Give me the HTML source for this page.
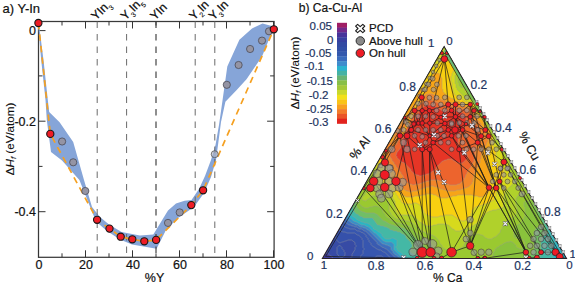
<!DOCTYPE html><html><head><meta charset="utf-8"><style>html,body{margin:0;padding:0;background:#fff;width:575px;height:284px;overflow:hidden}svg{display:block}.t{font-family:"Liberation Sans", sans-serif;font-size:12.5px;fill:#111;stroke:#111;stroke-width:0.2}.p{font-family:"Liberation Sans", sans-serif;font-size:12px;fill:#111;stroke:#111;stroke-width:0.25}.b{font-family:"Liberation Sans", sans-serif;font-size:11.5px;fill:#1c3360;stroke:#1c3360;stroke-width:0.2}.b2{font-family:"Liberation Sans", sans-serif;font-size:12px;fill:#1c3360;stroke:#1c3360;stroke-width:0.2}</style></head><body>
<svg width="575" height="284" viewBox="0 0 575 284">
<rect x="38.5" y="21.5" width="235.6" height="235.8" fill="none" stroke="#3a3a3a" stroke-width="1.25"/>
<line x1="38.5" y1="257.3" x2="38.5" y2="250.3" stroke="#333" stroke-width="1"/>
<line x1="38.5" y1="21.5" x2="38.5" y2="28.5" stroke="#333" stroke-width="1"/>
<line x1="62.0" y1="257.3" x2="62.0" y2="253.3" stroke="#333" stroke-width="1"/>
<line x1="62.0" y1="21.5" x2="62.0" y2="25.5" stroke="#333" stroke-width="1"/>
<line x1="85.5" y1="257.3" x2="85.5" y2="250.3" stroke="#333" stroke-width="1"/>
<line x1="85.5" y1="21.5" x2="85.5" y2="28.5" stroke="#333" stroke-width="1"/>
<line x1="109.0" y1="257.3" x2="109.0" y2="253.3" stroke="#333" stroke-width="1"/>
<line x1="109.0" y1="21.5" x2="109.0" y2="25.5" stroke="#333" stroke-width="1"/>
<line x1="132.5" y1="257.3" x2="132.5" y2="250.3" stroke="#333" stroke-width="1"/>
<line x1="132.5" y1="21.5" x2="132.5" y2="28.5" stroke="#333" stroke-width="1"/>
<line x1="156.0" y1="257.3" x2="156.0" y2="253.3" stroke="#333" stroke-width="1"/>
<line x1="156.0" y1="21.5" x2="156.0" y2="25.5" stroke="#333" stroke-width="1"/>
<line x1="179.5" y1="257.3" x2="179.5" y2="250.3" stroke="#333" stroke-width="1"/>
<line x1="179.5" y1="21.5" x2="179.5" y2="28.5" stroke="#333" stroke-width="1"/>
<line x1="203.0" y1="257.3" x2="203.0" y2="253.3" stroke="#333" stroke-width="1"/>
<line x1="203.0" y1="21.5" x2="203.0" y2="25.5" stroke="#333" stroke-width="1"/>
<line x1="226.5" y1="257.3" x2="226.5" y2="250.3" stroke="#333" stroke-width="1"/>
<line x1="226.5" y1="21.5" x2="226.5" y2="28.5" stroke="#333" stroke-width="1"/>
<line x1="250.0" y1="257.3" x2="250.0" y2="253.3" stroke="#333" stroke-width="1"/>
<line x1="250.0" y1="21.5" x2="250.0" y2="25.5" stroke="#333" stroke-width="1"/>
<line x1="273.5" y1="257.3" x2="273.5" y2="250.3" stroke="#333" stroke-width="1"/>
<line x1="273.5" y1="21.5" x2="273.5" y2="28.5" stroke="#333" stroke-width="1"/>
<line x1="38.5" y1="30.6" x2="45.5" y2="30.6" stroke="#333" stroke-width="1"/>
<line x1="274.1" y1="30.6" x2="267.1" y2="30.6" stroke="#333" stroke-width="1"/>
<line x1="38.5" y1="75.9" x2="42.5" y2="75.9" stroke="#333" stroke-width="1"/>
<line x1="274.1" y1="75.9" x2="270.1" y2="75.9" stroke="#333" stroke-width="1"/>
<line x1="38.5" y1="121.2" x2="45.5" y2="121.2" stroke="#333" stroke-width="1"/>
<line x1="274.1" y1="121.2" x2="267.1" y2="121.2" stroke="#333" stroke-width="1"/>
<line x1="38.5" y1="166.4" x2="42.5" y2="166.4" stroke="#333" stroke-width="1"/>
<line x1="274.1" y1="166.4" x2="270.1" y2="166.4" stroke="#333" stroke-width="1"/>
<line x1="38.5" y1="211.7" x2="45.5" y2="211.7" stroke="#333" stroke-width="1"/>
<line x1="274.1" y1="211.7" x2="267.1" y2="211.7" stroke="#333" stroke-width="1"/>
<polygon points="38.9,24.0 43.5,60.0 47.8,100.0 49.2,112.0 59.6,122.3 73.2,142.0 84.0,180.0 92.0,207.0 100.0,217.0 109.0,224.5 121.6,232.0 140.0,235.5 153.3,234.5 168.0,210.5 176.0,203.5 184.6,200.7 191.5,200.0 199.0,189.0 205.0,176.0 211.0,160.0 215.5,145.0 219.0,125.0 222.0,104.0 227.3,66.5 239.4,39.7 252.0,28.5 262.5,23.4 272.7,26.2 272.0,32.0 262.0,56.6 246.5,79.2 236.7,90.0 225.4,101.8 221.0,122.0 218.0,145.0 216.0,160.0 211.0,177.0 204.0,193.0 194.0,207.0 178.0,218.0 166.0,230.0 156.6,248.8 145.0,246.7 132.0,244.5 120.0,239.5 107.0,231.0 96.0,221.5 79.4,180.0 62.0,160.5 51.0,151.9 46.8,120.0 45.5,100.0 41.2,60.0 38.1,24.0" fill="#86a5d8"/>
<line x1="97.2" y1="21.5" x2="97.2" y2="257.0" stroke="#6a6a6a" stroke-width="1.0" stroke-dasharray="6.5 6"/>
<line x1="126.6" y1="21.5" x2="126.6" y2="257.0" stroke="#6a6a6a" stroke-width="1.0" stroke-dasharray="6.5 6"/>
<line x1="156.0" y1="21.5" x2="156.0" y2="257.0" stroke="#444" stroke-width="1.2" stroke-dasharray="6.5 6"/>
<line x1="195.2" y1="21.5" x2="195.2" y2="257.0" stroke="#6a6a6a" stroke-width="1.0" stroke-dasharray="6.5 6"/>
<line x1="214.8" y1="21.5" x2="214.8" y2="257.0" stroke="#6a6a6a" stroke-width="1.0" stroke-dasharray="6.5 6"/>
<polyline points="38.4,23.0 50.3,133.9 97.1,219.8 109.5,228.6 120.7,236.7 132.3,239.3 144.3,241.3 156.1,239.9 191.3,205.1 203.1,190.3 273.8,29.3" fill="none" stroke="#f5a020" stroke-width="1.7" stroke-dasharray="6.5 5"/>
<circle cx="62.1" cy="141.5" r="3.6" fill="#9494a4" stroke="#4a4a55" stroke-width="0.8"/>
<circle cx="73.2" cy="162.3" r="3.6" fill="#9494a4" stroke="#4a4a55" stroke-width="0.8"/>
<circle cx="85.3" cy="191.0" r="3.6" fill="#9494a4" stroke="#4a4a55" stroke-width="0.8"/>
<circle cx="168.0" cy="222.9" r="3.6" fill="#9494a4" stroke="#4a4a55" stroke-width="0.8"/>
<circle cx="179.7" cy="212.4" r="3.6" fill="#9494a4" stroke="#4a4a55" stroke-width="0.8"/>
<circle cx="226.8" cy="84.8" r="3.6" fill="#9494a4" stroke="#4a4a55" stroke-width="0.8"/>
<circle cx="238.6" cy="65.0" r="3.6" fill="#9494a4" stroke="#4a4a55" stroke-width="0.8"/>
<circle cx="250.1" cy="49.0" r="3.6" fill="#9494a4" stroke="#4a4a55" stroke-width="0.8"/>
<circle cx="262.0" cy="40.6" r="3.6" fill="#9494a4" stroke="#4a4a55" stroke-width="0.8"/>
<circle cx="269.0" cy="31.3" r="3.6" fill="#9494a4" stroke="#4a4a55" stroke-width="0.8"/>
<circle cx="214.7" cy="154.2" r="3.5" fill="#b4b4c0" fill-opacity="0.6" stroke="#555" stroke-width="0.8"/>
<circle cx="38.4" cy="23.0" r="3.6" fill="#ee1c25" stroke="#181818" stroke-width="1.1"/>
<circle cx="50.3" cy="133.9" r="3.6" fill="#ee1c25" stroke="#181818" stroke-width="1.1"/>
<circle cx="97.1" cy="219.8" r="3.6" fill="#ee1c25" stroke="#181818" stroke-width="1.1"/>
<circle cx="109.5" cy="228.6" r="3.6" fill="#ee1c25" stroke="#181818" stroke-width="1.1"/>
<circle cx="120.7" cy="236.7" r="3.6" fill="#ee1c25" stroke="#181818" stroke-width="1.1"/>
<circle cx="132.3" cy="239.3" r="3.6" fill="#ee1c25" stroke="#181818" stroke-width="1.1"/>
<circle cx="144.3" cy="241.3" r="3.6" fill="#ee1c25" stroke="#181818" stroke-width="1.1"/>
<circle cx="156.1" cy="239.9" r="3.6" fill="#ee1c25" stroke="#181818" stroke-width="1.1"/>
<circle cx="191.3" cy="205.1" r="3.6" fill="#ee1c25" stroke="#181818" stroke-width="1.1"/>
<circle cx="203.1" cy="190.3" r="3.6" fill="#ee1c25" stroke="#181818" stroke-width="1.1"/>
<circle cx="273.8" cy="29.3" r="3.6" fill="#ee1c25" stroke="#181818" stroke-width="1.1"/>
<text x="39.0" y="269.3" text-anchor="middle" class="t">0</text>
<text x="86.0" y="269.3" text-anchor="middle" class="t">20</text>
<text x="133.0" y="269.3" text-anchor="middle" class="t">40</text>
<text x="180.0" y="269.3" text-anchor="middle" class="t">60</text>
<text x="227.0" y="269.3" text-anchor="middle" class="t">80</text>
<text x="274.0" y="269.3" text-anchor="middle" class="t">100</text>
<text x="36" y="34.9" text-anchor="end" class="t">0</text>
<text x="36" y="125.5" text-anchor="end" class="t">-0.2</text>
<text x="36" y="216.0" text-anchor="end" class="t">-0.4</text>
<text x="154.5" y="282" text-anchor="middle" class="t">%Y</text>
<text x="2.5" y="13.3" class="t" style="font-size:13px">a) Y-In</text>
<text transform="translate(13.5,139) rotate(-90)" text-anchor="middle" class="t" style="font-size:11.6px;stroke-width:0.1">&#916;<tspan font-style="italic">H</tspan><tspan font-style="italic" font-size="8" dy="2">f</tspan><tspan dy="-2"> (eV/atom)</tspan></text>
<text transform="translate(96.0,20.8) rotate(-45)" class="p"><tspan dy="0.0">YIn</tspan><tspan font-size="7" stroke-width="0.15" dy="3.8">3</tspan></text>
<text transform="translate(125.5,20.8) rotate(-45)" class="p"><tspan dy="0.0">Y</tspan><tspan font-size="7" stroke-width="0.15" dy="3.8">3</tspan><tspan dy="-3.8">In</tspan><tspan font-size="7" stroke-width="0.15" dy="3.8">5</tspan></text>
<text transform="translate(155.0,20.8) rotate(-45)" class="p"><tspan dy="0.0">YIn</tspan></text>
<text transform="translate(194.0,20.8) rotate(-45)" class="p"><tspan dy="0.0">Y</tspan><tspan font-size="7" stroke-width="0.15" dy="3.8">2</tspan><tspan dy="-3.8">In</tspan></text>
<text transform="translate(213.5,20.8) rotate(-45)" class="p"><tspan dy="0.0">Y</tspan><tspan font-size="7" stroke-width="0.15" dy="3.8">3</tspan><tspan dy="-3.8">In</tspan></text>
<text x="298.8" y="12" class="t" style="font-size:12px">b) Ca-Cu-Al</text>
<rect x="337" y="22.80" width="10" height="5.10" fill="#a01e64"/>
<rect x="337" y="27.60" width="10" height="5.10" fill="#72298a"/>
<rect x="337" y="32.39" width="10" height="5.10" fill="#46339a"/>
<rect x="337" y="37.19" width="10" height="5.10" fill="#3840a0"/>
<rect x="337" y="41.98" width="10" height="5.10" fill="#3249a2"/>
<rect x="337" y="46.78" width="10" height="5.10" fill="#314fa6"/>
<rect x="337" y="51.57" width="10" height="5.10" fill="#3358ad"/>
<rect x="337" y="56.37" width="10" height="5.10" fill="#3a6cbd"/>
<rect x="337" y="61.16" width="10" height="5.10" fill="#3f8ccd"/>
<rect x="337" y="65.96" width="10" height="5.10" fill="#2cb3cf"/>
<rect x="337" y="70.75" width="10" height="5.10" fill="#45b3a5"/>
<rect x="337" y="75.55" width="10" height="5.10" fill="#69b474"/>
<rect x="337" y="80.34" width="10" height="5.10" fill="#88bf48"/>
<rect x="337" y="85.14" width="10" height="5.10" fill="#a5c83a"/>
<rect x="337" y="89.93" width="10" height="5.10" fill="#c8d82e"/>
<rect x="337" y="94.73" width="10" height="5.10" fill="#f2e01a"/>
<rect x="337" y="99.52" width="10" height="5.10" fill="#f9c418"/>
<rect x="337" y="104.32" width="10" height="5.10" fill="#f8a020"/>
<rect x="337" y="109.11" width="10" height="5.10" fill="#f27c2c"/>
<rect x="337" y="113.91" width="10" height="5.10" fill="#ea5528"/>
<rect x="337" y="118.70" width="10" height="5.10" fill="#e2231f"/>
<text x="332.0" y="30.0" text-anchor="end" class="b">0.05</text>
<text x="333.5" y="44.0" text-anchor="end" class="b">0</text>
<text x="331.5" y="57.0" text-anchor="end" class="b">-0.05</text>
<text x="324.0" y="70.0" text-anchor="end" class="b">-0.1</text>
<text x="333.0" y="85.0" text-anchor="end" class="b">-0.15</text>
<text x="328.5" y="99.0" text-anchor="end" class="b">-0.2</text>
<text x="332.5" y="112.5" text-anchor="end" class="b">-0.25</text>
<text x="328.5" y="126.0" text-anchor="end" class="b">-0.3</text>
<text transform="translate(299.3,73) rotate(-90)" text-anchor="middle" class="t" style="font-size:11.6px;stroke-width:0.1">&#916;<tspan font-style="italic">H</tspan><tspan font-style="italic" font-size="8" dy="2">f</tspan><tspan dy="-2"> (eV/atom)</tspan></text>
<g transform="translate(360.2,28.5)"><path d="M-4.6,-2.4 L-2.6,-4.2 L0,-1.8 L2.6,-4.2 L4.6,-2.4 L2.2,0 L4.6,2.4 L2.6,4.2 L0,1.8 L-2.6,4.2 L-4.6,2.4 L-2.2,0 Z" fill="#fff" stroke="#1a1a1a" stroke-width="1.1" stroke-linejoin="round"/></g>
<circle cx="360.3" cy="40.9" r="4.2" fill="#8a8a8a" stroke="#2a2a2a" stroke-width="1"/>
<circle cx="360.3" cy="53.1" r="4.2" fill="#ee1c25" stroke="#2a2a2a" stroke-width="1"/>
<text x="369" y="32.3" class="t" style="font-size:11.5px">PCD</text>
<text x="369" y="45" class="t" style="font-size:11.5px">Above hull</text>
<text x="369" y="57.3" class="t" style="font-size:11.5px">On hull</text>
<defs><clipPath id="tri"><polygon points="322.4,258.5 566.5,258.5 444.1,46.5"/></clipPath></defs>
<g clip-path="url(#tri)"><g><rect x="322" y="46" width="245" height="213" fill="#423f9c"/><path fill-rule="evenodd" fill="#374ba5" d="M566.5,259.1 429.5,259.2 333.5,258.6 332.0,257.5 331.5,256.0 330.5,256.0 327.5,253.0 326.5,253.0 323.0,249.5 322.4,247.5 321.8,191.5 321.7,46.5 322.5,45.7 566.5,45.7 567.3,46.5 567.1,250.5 567.1,258.5 566.5,259.1Z"/><path fill-rule="evenodd" fill="#3551ab" d="M566.5,259.0 429.5,259.2 351.0,258.5 351.0,257.5 352.0,256.5 352.0,254.5 355.0,249.5 355.0,247.5 356.0,246.5 356.0,245.5 355.0,244.5 355.0,242.5 351.5,240.0 347.5,240.0 346.5,241.0 344.5,241.0 343.5,242.0 341.5,242.0 340.5,243.0 339.5,243.0 336.0,239.5 336.0,238.5 334.0,236.5 334.0,235.5 329.5,231.0 328.5,231.0 327.5,230.0 322.5,230.0 322.4,229.5 321.9,182.5 321.8,46.5 322.5,45.8 566.5,45.7 567.3,46.5 567.1,240.5 567.0,258.5 566.5,259.0ZM341.5,258.0 340.5,257.0 339.5,257.0 337.0,253.5 337.0,247.5 339.5,245.0 342.0,247.5 342.0,248.5 344.0,250.5 344.0,251.5 345.0,252.5 345.0,255.5 341.5,258.0Z"/><path fill-rule="evenodd" fill="#3756af" d="M566.5,258.9 403.5,258.9 384.5,258.6 381.5,256.0 376.5,256.0 374.5,258.6 360.0,258.5 361.0,255.5 363.0,253.5 363.0,250.5 364.0,249.5 364.0,248.5 363.0,247.5 363.0,240.5 362.0,239.5 362.0,238.5 358.5,235.0 357.5,235.0 354.5,233.0 346.5,233.0 345.5,232.0 342.5,232.0 341.5,231.0 338.5,230.0 333.5,225.0 331.5,225.0 330.5,224.0 322.5,224.0 322.0,182.5 321.8,46.5 322.5,45.8 566.5,45.8 567.2,46.5 567.0,240.5 566.9,258.5 566.5,258.9Z"/><path fill-rule="evenodd" fill="#395bb1" d="M566.5,258.8 429.5,259.0 391.0,258.5 384.5,252.0 383.5,252.0 380.5,250.0 378.5,250.0 377.5,249.0 376.5,249.0 374.5,247.0 373.5,247.0 371.0,244.5 371.0,243.5 369.0,241.5 369.0,240.5 368.0,239.5 368.0,238.5 366.0,236.5 366.0,235.5 363.5,233.0 360.5,232.0 359.5,231.0 357.5,231.0 354.5,229.0 349.5,229.0 348.5,228.0 346.5,228.0 345.5,227.0 342.5,226.0 340.5,224.0 339.5,224.0 337.5,222.0 336.5,222.0 333.5,220.0 330.5,220.0 329.5,219.0 322.5,219.0 321.9,46.5 322.5,45.9 566.5,45.8 567.2,46.5 567.0,226.5 566.5,258.8Z"/><path fill-rule="evenodd" fill="#3d6fbe" d="M566.5,258.7 429.5,259.0 395.0,258.5 395.0,257.5 386.5,249.0 385.5,249.0 384.5,248.0 381.5,247.0 379.5,245.0 378.5,245.0 377.0,243.5 377.0,242.5 365.5,231.0 364.5,231.0 361.5,229.0 359.5,229.0 356.5,227.0 354.5,227.0 353.5,226.0 351.5,226.0 350.5,225.0 348.5,225.0 346.5,223.0 345.5,223.0 341.5,219.0 340.5,219.0 339.5,218.0 338.5,218.0 333.5,215.0 329.5,215.0 328.5,214.0 322.5,214.0 322.0,46.5 322.5,46.0 566.5,45.9 567.1,46.5 566.5,258.7Z"/><path fill-rule="evenodd" fill="#388fc8" d="M566.5,258.6 429.5,258.9 400.0,258.5 396.5,255.0 395.5,255.0 393.0,252.5 393.0,251.5 391.0,249.5 391.0,247.5 389.5,246.0 388.5,246.0 387.5,245.0 385.5,245.0 384.5,244.0 382.5,244.0 368.5,230.0 367.5,230.0 365.5,228.0 363.5,228.0 362.5,227.0 360.5,227.0 357.5,225.0 355.5,225.0 354.5,224.0 351.5,223.0 349.5,221.0 348.5,221.0 346.0,218.5 346.0,217.5 344.5,216.0 343.5,216.0 341.5,214.0 340.5,214.0 337.5,212.0 336.5,212.0 335.5,211.0 333.5,211.0 332.5,210.0 330.5,210.0 329.5,209.0 326.5,209.0 325.5,208.0 322.5,207.0 322.0,46.5 322.5,46.0 566.5,45.9 567.1,46.5 566.5,258.6Z"/><path fill-rule="evenodd" fill="#29b5c3" d="M563.5,258.6 403.0,258.5 394.0,249.5 394.0,244.5 391.5,242.0 385.5,242.0 384.5,241.0 383.5,241.0 375.5,233.0 374.5,233.0 368.5,227.0 365.5,226.0 364.5,225.0 361.5,225.0 356.5,222.0 353.5,221.0 350.5,218.0 349.0,217.5 348.0,214.5 344.5,211.0 343.5,211.0 341.5,209.0 340.5,209.0 335.5,206.0 333.5,206.0 330.5,204.0 328.5,204.0 326.5,202.0 325.5,202.0 322.4,198.5 322.1,46.5 322.5,46.1 566.5,46.0 567.0,46.5 566.5,250.5 564.0,254.5 564.0,258.5 563.5,258.6Z"/><path fill-rule="evenodd" fill="#44b8a5" d="M552.5,258.5 410.0,258.5 407.5,257.0 406.5,257.0 404.5,255.0 403.5,255.0 400.5,252.0 399.5,252.0 397.0,249.5 397.0,248.5 396.0,247.5 396.0,246.5 397.0,245.5 397.0,240.5 395.5,239.0 394.5,239.0 393.5,238.0 391.5,238.0 390.5,239.0 385.5,239.0 382.0,235.5 382.0,234.5 379.5,232.0 378.5,232.0 376.5,230.0 373.5,229.0 373.0,227.5 369.5,224.0 368.5,224.0 367.5,223.0 364.5,223.0 363.5,222.0 361.5,222.0 360.5,221.0 357.5,220.0 354.5,217.0 353.5,217.0 350.0,213.5 350.0,212.5 349.0,211.5 348.0,208.5 344.5,205.0 343.5,205.0 338.5,202.0 336.5,202.0 335.5,201.0 333.5,201.0 332.5,200.0 329.5,199.0 322.5,191.5 322.2,46.5 566.5,46.1 566.9,46.5 566.5,240.5 566.5,241.0 563.5,241.0 562.5,242.0 555.5,242.0 553.0,244.5 553.0,258.5 552.5,258.5Z"/><path fill-rule="evenodd" fill="#71be66" d="M539.5,258.5 418.0,258.5 418.0,256.5 416.5,255.0 414.5,255.0 413.5,254.0 412.5,254.0 410.0,251.5 410.0,250.5 411.0,249.5 411.0,247.5 412.0,246.5 412.0,244.5 411.0,243.5 411.0,242.5 406.0,237.5 406.0,236.5 403.5,234.0 402.5,234.0 399.5,232.0 397.5,232.0 396.5,231.0 393.5,231.0 392.5,230.0 390.5,230.0 388.5,228.0 387.5,228.0 386.5,227.0 384.5,227.0 383.5,226.0 380.5,226.0 379.5,225.0 377.5,225.0 372.5,218.0 363.5,218.0 362.5,217.0 359.5,216.0 357.5,214.0 356.5,214.0 354.0,211.5 354.0,210.5 353.0,209.5 353.0,207.5 352.0,206.5 352.0,203.5 349.5,201.0 348.5,201.0 347.5,200.0 345.5,200.0 344.5,199.0 342.5,199.0 341.5,198.0 339.5,198.0 338.5,197.0 336.5,197.0 335.5,196.0 332.5,195.0 326.0,188.5 326.0,187.5 324.0,185.5 324.0,184.5 322.5,182.5 322.2,46.5 566.5,46.1 566.9,46.5 566.5,227.0 565.5,228.0 563.5,228.0 562.5,229.0 559.5,229.0 558.5,230.0 556.5,230.0 555.5,231.0 553.5,231.0 552.5,232.0 550.5,232.0 549.5,233.0 547.5,233.0 546.5,234.0 545.5,234.0 542.0,237.5 542.0,240.5 541.0,241.5 541.0,255.5 540.0,256.5 540.0,258.5 539.5,258.5Z"/><path fill-rule="evenodd" fill="#89c23c" d="M527.5,258.5 425.0,258.5 425.0,256.5 426.0,255.5 426.0,248.5 424.0,246.5 424.0,245.5 420.5,242.0 419.5,242.0 407.5,230.0 406.5,230.0 403.5,228.0 401.5,228.0 400.5,227.0 397.5,227.0 396.5,226.0 394.5,226.0 393.5,225.0 391.5,225.0 390.5,224.0 389.5,224.0 384.5,221.0 383.5,221.0 376.5,214.0 375.5,214.0 374.5,213.0 365.5,213.0 364.5,212.0 362.5,212.0 361.5,211.0 360.5,211.0 357.0,207.5 357.0,206.5 356.0,205.5 356.0,199.5 353.5,197.0 352.5,197.0 347.5,194.0 345.5,194.0 344.5,193.0 342.5,193.0 341.5,192.0 339.5,192.0 338.5,191.0 337.5,191.0 332.0,185.5 332.0,183.5 330.0,180.5 330.0,178.5 329.0,177.5 329.0,176.5 324.5,172.0 323.5,172.0 322.5,170.5 322.5,46.3 566.8,46.5 566.5,210.0 565.5,210.0 564.5,211.0 562.5,211.0 561.5,212.0 558.5,213.0 553.0,218.5 553.0,219.5 551.0,221.5 551.0,222.5 547.5,226.0 545.5,226.0 544.5,227.0 538.5,227.0 535.0,229.5 535.0,230.5 534.0,231.5 534.0,249.5 533.0,250.5 532.0,253.5 530.0,255.5 530.0,256.5 527.5,258.5Z"/><path fill-rule="evenodd" fill="#9ac930" d="M492.5,258.5 429.0,258.5 430.0,257.5 430.0,256.5 433.0,253.5 434.0,250.5 433.0,249.5 433.0,247.5 432.0,246.5 432.0,245.5 425.5,239.0 424.5,239.0 419.5,235.0 418.5,235.0 410.5,227.0 407.5,226.0 406.5,225.0 404.5,225.0 403.5,224.0 400.5,224.0 399.5,223.0 396.5,223.0 395.5,222.0 394.5,222.0 393.5,221.0 390.5,220.0 388.5,218.0 387.5,218.0 385.0,215.5 385.0,214.5 383.0,212.5 382.0,209.5 379.5,207.0 378.5,207.0 377.5,206.0 373.5,206.0 372.5,207.0 369.5,207.0 368.5,208.0 364.5,208.0 363.5,207.0 362.5,207.0 358.0,202.5 358.0,200.5 357.0,199.5 357.0,191.5 356.0,190.5 356.0,188.5 353.5,186.0 351.5,186.0 350.5,185.0 347.5,185.0 346.5,184.0 344.5,184.0 343.5,183.0 342.5,183.0 338.0,178.5 338.0,177.5 337.0,176.5 336.0,173.5 334.0,171.5 334.0,170.5 331.5,168.0 330.5,168.0 328.5,166.0 325.5,165.0 324.5,164.0 322.5,164.0 322.5,46.3 566.8,46.5 566.5,200.0 563.5,203.0 562.5,203.0 557.5,206.0 555.5,206.0 552.5,208.0 550.5,208.0 549.5,209.0 547.5,209.0 546.5,210.0 544.5,210.0 543.5,211.0 538.5,211.0 536.0,207.5 536.0,205.5 532.5,202.0 531.5,202.0 530.5,201.0 525.5,201.0 524.0,202.5 524.0,206.5 525.0,207.5 525.0,216.5 524.0,217.5 524.0,218.5 522.0,220.5 522.0,221.5 519.5,224.0 518.5,224.0 517.0,225.5 517.0,226.5 515.0,228.5 515.0,229.5 514.0,230.5 514.0,236.5 515.5,238.0 518.5,238.0 519.5,239.0 521.5,239.0 522.5,240.0 523.5,240.0 525.0,242.5 525.0,246.5 522.5,249.0 519.5,249.0 518.5,248.0 517.5,248.0 516.0,246.5 516.0,245.5 512.5,242.0 511.5,242.0 510.5,241.0 509.5,242.0 506.5,242.0 505.5,243.0 504.5,243.0 501.5,245.0 500.5,245.0 498.5,247.0 497.5,247.0 495.0,249.5 495.0,250.5 493.0,253.5 493.0,258.5 492.5,258.5Z"/><path fill-rule="evenodd" fill="#b0d12b" d="M454.5,251.0 448.5,251.0 447.5,250.0 444.5,249.0 442.0,246.5 442.0,245.5 440.0,243.5 439.0,240.5 434.5,236.0 433.5,236.0 432.5,235.0 430.5,235.0 429.5,234.0 427.5,234.0 426.5,233.0 425.5,233.0 424.5,232.0 421.5,231.0 418.5,228.0 417.5,228.0 412.5,223.0 411.5,223.0 408.5,221.0 405.5,221.0 404.5,220.0 399.5,220.0 398.5,219.0 396.5,219.0 395.5,218.0 394.5,218.0 391.0,214.5 391.0,213.5 389.0,210.5 389.0,204.5 388.0,203.5 388.0,201.5 387.0,200.5 387.0,199.5 385.5,198.0 384.5,198.0 381.5,196.0 372.5,196.0 365.5,201.0 362.5,200.0 362.0,199.5 362.0,197.5 365.0,194.5 365.0,193.5 367.0,191.5 367.0,184.5 362.5,180.0 361.5,180.0 358.5,178.0 354.5,178.0 353.5,177.0 349.5,177.0 348.5,176.0 345.5,175.0 341.0,170.5 341.0,169.5 339.0,167.5 339.0,166.5 337.0,164.5 337.0,163.5 334.5,161.0 333.5,161.0 328.5,158.0 326.5,158.0 325.5,157.0 324.5,157.0 322.5,155.0 322.5,46.4 566.7,46.5 566.5,185.0 565.5,185.0 563.5,187.0 562.5,187.0 560.0,189.5 560.0,190.5 558.0,192.5 558.0,193.5 554.5,196.0 550.5,196.0 547.5,194.0 544.5,194.0 543.5,193.0 541.5,193.0 540.5,194.0 534.5,194.0 533.5,195.0 524.5,195.0 523.5,194.0 520.5,194.0 519.5,195.0 518.5,195.0 516.0,198.5 516.0,206.5 517.0,207.5 517.0,213.5 511.5,219.0 510.5,219.0 508.5,221.0 507.5,221.0 503.0,225.5 503.0,226.5 502.0,227.5 502.0,228.5 501.0,229.5 500.0,232.5 495.5,237.0 494.5,237.0 491.5,239.0 487.5,239.0 486.5,238.0 485.5,238.0 482.5,235.0 480.5,235.0 479.5,234.0 475.5,234.0 474.5,235.0 472.5,235.0 471.5,236.0 470.5,236.0 467.0,239.5 467.0,240.5 465.0,242.5 464.0,245.5 461.5,248.0 460.5,248.0 457.5,250.0 455.5,250.0 454.5,251.0ZM463.0,87.5 466.0,84.5 466.0,83.5 467.0,82.5 467.0,78.5 464.5,76.0 459.5,76.0 458.0,77.5 458.0,82.5 459.0,83.5 459.0,85.5 461.5,88.0 463.0,87.5ZM500.0,141.5 501.0,140.5 501.0,138.5 500.5,138.0 498.5,138.0 497.0,139.5 497.0,140.5 498.5,142.0 500.0,141.5ZM523.0,185.5 522.5,184.0 521.0,184.5 521.5,186.0 523.0,185.5Z"/><path fill-rule="evenodd" fill="#d7da1c" d="M460.5,231.0 455.5,231.0 453.5,229.0 452.5,229.0 448.5,225.0 447.5,225.0 446.5,224.0 437.5,224.0 436.5,225.0 433.5,225.0 432.5,226.0 426.5,226.0 425.5,225.0 422.5,224.0 420.5,222.0 419.5,222.0 413.5,216.0 412.5,216.0 411.5,215.0 399.5,215.0 396.0,211.5 396.0,208.5 395.0,207.5 395.0,201.5 393.0,198.5 392.0,195.5 388.5,192.0 387.5,192.0 386.5,191.0 384.5,191.0 383.5,190.0 380.5,190.0 379.5,189.0 378.5,189.0 375.0,185.5 375.0,184.5 374.0,183.5 374.0,177.5 377.0,172.5 377.0,169.5 373.5,166.0 366.5,166.0 365.5,167.0 363.5,167.0 360.5,169.0 351.5,169.0 350.5,168.0 349.5,168.0 347.0,165.5 346.0,162.5 345.0,161.5 345.0,157.5 344.0,156.5 344.0,153.5 343.0,152.5 343.0,151.5 339.5,148.0 337.5,148.0 334.5,146.0 332.5,146.0 329.0,142.5 328.0,139.5 326.0,136.5 326.0,134.5 325.0,133.5 325.0,131.5 324.0,130.5 324.0,128.5 322.5,126.0 322.5,46.5 566.7,46.5 566.5,156.0 565.5,156.0 563.0,157.5 563.0,158.5 562.0,159.5 561.0,162.5 557.5,166.0 556.5,166.0 553.5,168.0 551.5,168.0 550.5,169.0 548.5,169.0 547.5,170.0 544.5,170.0 543.5,171.0 539.5,171.0 538.5,172.0 536.5,172.0 535.5,171.0 533.5,171.0 525.5,163.0 524.5,163.0 523.5,162.0 518.5,162.0 517.5,161.0 510.5,161.0 509.0,162.5 509.0,171.5 510.0,172.5 510.0,174.5 512.0,177.5 512.0,179.5 513.0,180.5 513.0,183.5 512.0,184.5 512.0,185.5 510.5,186.0 506.0,190.5 506.0,191.5 505.0,192.5 505.0,194.5 504.0,195.5 504.0,206.5 500.5,209.0 497.5,209.0 496.5,210.0 492.5,210.0 491.5,211.0 489.5,211.0 488.5,212.0 487.5,212.0 485.5,214.0 484.0,214.5 484.0,215.5 481.0,218.5 481.0,219.5 476.5,224.0 475.5,224.0 473.5,226.0 472.5,226.0 469.5,228.0 467.5,228.0 466.5,229.0 464.5,229.0 463.5,230.0 461.5,230.0 460.5,231.0ZM475.0,98.5 475.0,96.5 472.5,94.0 471.5,94.0 470.5,93.0 466.5,93.0 465.0,91.5 465.0,89.5 467.0,87.5 467.0,86.5 471.0,82.5 471.0,81.5 472.0,80.5 472.0,75.5 468.5,72.0 466.5,72.0 465.5,71.0 464.5,71.0 463.5,72.0 459.5,72.0 458.5,73.0 457.5,73.0 455.0,75.5 455.0,83.5 456.0,84.5 456.0,87.5 457.0,88.5 457.0,89.5 465.5,98.0 466.5,98.0 467.5,99.0 474.5,99.0 475.0,98.5ZM479.0,109.5 478.5,109.0 478.0,109.5 478.5,110.0 479.0,109.5ZM500.0,145.5 501.5,145.0 503.5,143.0 504.5,143.0 505.0,141.5 507.0,139.5 507.0,137.5 508.0,136.5 508.0,135.5 505.5,132.0 501.5,132.0 500.5,133.0 497.5,134.0 496.0,136.5 496.0,137.5 495.0,138.5 495.0,142.5 498.5,146.0 500.0,145.5ZM518.5,173.0 517.5,173.0 515.0,170.5 516.5,168.0 518.5,168.0 520.0,169.5 520.0,171.5 518.5,173.0Z"/><path fill-rule="evenodd" fill="#f8d010" d="M464.5,221.0 461.5,221.0 460.5,220.0 458.5,220.0 455.5,217.0 454.5,217.0 452.5,215.0 444.5,215.0 443.5,216.0 439.5,216.0 438.5,217.0 431.5,217.0 430.5,216.0 428.5,216.0 427.5,215.0 426.5,215.0 424.0,212.5 424.0,211.5 422.0,208.5 422.0,207.5 418.5,204.0 417.5,204.0 416.5,203.0 413.5,203.0 412.5,204.0 404.5,204.0 403.5,203.0 402.5,203.0 401.0,201.5 401.0,200.5 398.0,197.5 398.0,196.5 396.0,194.5 396.0,193.5 389.5,187.0 388.5,187.0 385.5,184.0 384.0,183.5 384.0,182.5 383.0,181.5 383.0,176.5 384.0,175.5 384.0,169.5 383.0,168.5 383.0,167.5 377.5,162.0 376.5,162.0 373.5,160.0 371.5,160.0 370.5,159.0 366.5,159.0 365.5,158.0 359.5,158.0 358.5,157.0 357.5,157.0 355.0,154.5 355.0,153.5 353.0,151.5 353.0,149.5 352.0,148.5 352.0,147.5 350.0,145.5 350.0,144.5 345.5,140.0 344.5,140.0 343.5,139.0 341.5,139.0 338.5,137.0 337.5,137.0 333.0,132.5 333.0,130.5 332.0,129.5 332.0,124.5 333.0,123.5 333.0,121.5 335.0,118.5 335.0,116.5 336.0,115.5 336.0,107.5 335.0,106.5 335.0,105.5 332.5,103.0 331.5,103.0 326.5,100.0 325.5,100.0 322.5,97.0 322.5,88.0 323.0,86.5 328.0,81.5 328.0,80.5 330.0,77.5 330.0,66.5 331.0,65.5 332.0,62.5 334.5,60.0 335.5,60.0 337.5,58.0 338.5,58.0 343.0,53.5 343.0,52.5 344.0,51.5 344.0,48.5 345.0,47.5 345.0,46.5 403.0,46.5 403.0,47.5 402.0,48.5 402.0,50.5 403.5,53.0 405.5,55.0 406.5,55.0 407.5,56.0 410.5,56.0 411.5,55.0 413.5,55.0 414.5,54.0 415.5,54.0 419.0,50.5 419.0,49.5 421.0,46.5 435.0,46.5 435.0,47.5 436.0,48.5 436.0,52.5 435.0,53.5 435.0,54.5 434.0,55.5 433.0,58.5 432.0,59.5 432.0,61.5 434.5,64.0 437.5,64.0 438.5,63.0 439.5,63.0 444.5,57.0 448.5,57.0 449.5,56.0 450.5,56.0 452.5,54.0 453.5,54.0 458.5,50.0 459.5,50.0 463.0,46.5 566.6,46.5 566.5,143.0 565.5,144.0 563.5,144.0 560.5,146.0 558.5,146.0 557.5,147.0 555.5,147.0 554.5,148.0 552.5,148.0 551.5,149.0 548.5,149.0 546.0,146.5 545.0,143.5 543.0,141.5 542.5,140.0 541.5,140.0 540.5,139.0 534.5,139.0 533.5,140.0 532.5,140.0 529.0,143.5 529.0,144.5 528.0,145.5 527.0,148.5 525.5,150.0 524.5,150.0 522.5,152.0 520.5,152.0 519.5,153.0 508.5,153.0 507.5,152.0 505.5,152.0 504.5,151.0 503.5,151.0 503.0,150.5 503.0,148.5 504.5,147.0 505.5,147.0 511.5,141.0 512.5,141.0 513.0,139.5 516.0,136.5 516.0,129.5 514.5,127.0 511.5,125.0 504.5,125.0 502.5,127.0 501.5,127.0 499.5,129.0 498.5,129.0 494.0,133.5 494.0,136.5 493.0,137.5 493.0,145.5 494.0,146.5 494.0,148.5 496.0,151.5 496.0,159.5 498.0,162.5 498.0,163.5 503.0,168.5 503.0,169.5 504.0,170.5 504.0,176.5 503.0,177.5 502.0,180.5 501.0,181.5 501.0,182.5 499.0,184.5 499.0,185.5 498.0,186.5 498.0,188.5 497.0,189.5 497.0,191.5 496.0,192.5 496.0,195.5 495.0,196.5 494.0,199.5 492.5,201.0 491.5,201.0 486.5,204.0 484.5,204.0 483.5,205.0 481.5,205.0 480.5,206.0 477.5,206.0 476.5,207.0 475.5,207.0 472.0,210.5 472.0,212.5 471.0,213.5 471.0,215.5 466.5,220.0 465.5,220.0 464.5,221.0ZM481.0,112.5 481.0,110.5 483.5,108.0 486.5,107.0 495.0,98.5 495.0,97.5 497.0,95.5 497.0,90.5 493.5,87.0 488.5,87.0 487.5,86.0 478.5,86.0 478.0,85.5 478.0,82.5 479.0,81.5 479.0,77.5 478.0,76.5 478.0,71.5 477.0,70.5 477.0,68.5 476.0,67.5 476.0,66.5 474.5,65.0 467.5,65.0 466.5,66.0 464.5,66.0 463.5,67.0 462.5,67.0 459.5,69.0 458.5,69.0 457.5,70.0 454.5,70.0 453.0,71.5 453.0,72.5 452.0,73.5 452.0,75.5 451.0,76.5 451.0,81.5 452.0,82.5 452.0,87.5 453.0,88.5 453.0,91.5 454.0,92.5 454.0,93.5 457.5,97.0 458.5,97.0 460.5,99.0 461.5,99.0 466.5,102.0 469.5,102.0 470.5,103.0 472.5,103.0 476.0,106.5 476.0,108.5 477.0,109.5 477.0,111.5 478.5,113.0 480.5,113.0 481.0,112.5ZM471.5,90.0 469.5,90.0 469.0,89.5 470.5,88.0 472.5,88.0 473.0,88.5 471.5,90.0Z"/><path fill-rule="evenodd" fill="#f7a518" d="M533.5,127.0 528.5,127.0 525.0,123.5 525.0,117.5 531.0,111.5 531.0,110.5 532.0,109.5 532.0,103.5 531.0,102.5 530.0,99.5 528.5,98.0 526.5,98.0 525.5,97.0 520.5,97.0 519.5,98.0 512.5,98.0 510.0,95.5 510.0,93.5 509.0,92.5 509.0,89.5 508.0,88.5 508.0,80.5 509.0,79.5 509.0,78.5 515.0,72.5 515.0,71.5 516.0,70.5 516.0,64.5 513.5,62.0 512.5,62.0 511.5,61.0 504.5,61.0 503.5,62.0 499.5,62.0 497.0,59.5 497.0,58.5 496.0,57.5 496.0,54.5 495.0,53.5 495.0,46.5 566.6,46.5 566.5,116.0 564.0,113.5 564.0,112.5 560.5,109.0 553.5,109.0 552.5,110.0 550.5,110.0 549.5,111.0 547.5,111.0 546.5,112.0 545.5,112.0 541.0,116.5 539.0,122.5 535.5,126.0 534.5,126.0 533.5,127.0ZM385.5,63.0 383.5,63.0 383.0,62.5 383.0,59.5 384.5,58.0 385.5,58.0 387.0,59.5 387.0,61.5 385.5,63.0ZM447.5,198.0 440.5,198.0 439.5,197.0 438.5,197.0 435.5,195.0 433.5,195.0 432.5,194.0 426.5,194.0 425.5,195.0 421.5,195.0 420.5,196.0 414.5,196.0 413.5,197.0 405.5,197.0 404.5,196.0 403.5,196.0 397.0,189.5 397.0,188.5 394.0,185.5 394.0,184.5 392.0,182.5 392.0,181.5 391.0,180.5 391.0,178.5 390.0,177.5 390.0,173.5 389.0,172.5 389.0,170.5 388.0,169.5 388.0,168.5 387.0,167.5 386.0,164.5 377.5,156.0 376.5,156.0 371.5,153.0 369.5,153.0 368.5,152.0 366.5,152.0 365.5,151.0 362.5,150.0 359.0,146.5 359.0,145.5 358.0,144.5 358.0,142.5 357.0,141.5 357.0,138.5 356.0,137.5 356.0,136.5 357.0,135.5 357.0,132.5 358.0,131.5 358.0,129.5 359.0,128.5 359.0,127.5 360.0,126.5 360.0,124.5 357.5,121.0 355.5,121.0 354.5,120.0 352.5,120.0 351.5,119.0 350.5,119.0 348.0,116.5 348.0,115.5 346.0,112.5 346.0,102.5 347.0,101.5 347.0,100.5 352.5,95.0 353.5,95.0 355.0,93.5 355.0,92.5 357.0,90.5 357.0,89.5 358.0,88.5 358.0,85.5 359.0,84.5 359.0,80.5 360.0,79.5 360.0,78.5 362.5,76.0 363.5,76.0 365.5,74.0 366.5,74.0 367.5,73.0 369.5,73.0 370.5,72.0 372.5,72.0 373.5,71.0 378.5,71.0 380.0,72.5 380.0,73.5 381.0,74.5 382.0,77.5 384.0,79.5 384.0,80.5 385.5,82.0 386.5,82.0 387.5,83.0 394.5,83.0 395.5,82.0 397.5,82.0 398.5,81.0 401.5,80.0 403.0,78.5 403.0,77.5 405.0,74.5 405.0,72.5 409.5,68.0 410.5,68.0 411.5,67.0 416.5,67.0 421.0,71.5 421.0,76.5 420.0,77.5 420.0,78.5 414.0,84.5 414.0,89.5 416.5,91.0 417.5,90.0 419.5,90.0 421.5,88.0 422.5,88.0 425.0,85.5 425.0,84.5 429.0,79.5 429.0,78.5 430.5,78.0 432.0,76.5 432.0,75.5 434.5,73.0 438.5,73.0 440.0,74.5 440.0,75.5 442.0,78.5 442.0,88.5 443.0,89.5 443.0,91.5 447.5,96.0 448.5,96.0 450.5,98.0 453.5,99.0 456.5,101.0 458.5,101.0 461.5,103.0 463.5,103.0 464.5,104.0 466.5,104.0 467.5,105.0 470.5,105.0 472.5,107.0 473.5,107.0 475.0,109.5 475.0,110.5 476.0,111.5 476.0,113.5 483.0,120.5 485.0,126.5 491.0,131.5 491.0,142.5 490.0,143.5 490.0,147.5 489.0,148.5 489.0,152.5 488.0,153.5 488.0,167.5 489.0,168.5 489.0,170.5 490.0,171.5 490.0,173.5 491.0,174.5 491.0,182.5 490.0,183.5 490.0,188.5 489.0,189.5 489.0,191.5 487.0,193.5 486.5,195.0 485.5,195.0 482.5,197.0 478.5,197.0 477.5,196.0 473.5,196.0 472.5,195.0 457.5,195.0 456.5,196.0 452.5,196.0 451.5,197.0 448.5,197.0 447.5,198.0ZM504.5,114.0 502.5,114.0 500.0,111.5 500.0,110.5 501.0,109.5 501.0,108.5 503.5,106.0 504.5,106.0 505.5,105.0 507.5,105.0 509.0,106.5 509.0,110.5 506.5,113.0 505.5,113.0 504.5,114.0Z"/><path fill-rule="evenodd" fill="#f2872b" d="M549.5,48.0 544.5,48.0 543.0,46.5 554.0,46.5 553.5,47.0 550.5,47.0 549.5,48.0ZM566.5,51.0 566.0,50.5 566.0,47.5 565.0,46.5 566.5,46.5 566.5,51.0ZM537.5,65.0 532.5,65.0 531.0,63.5 531.0,59.5 533.5,57.0 534.5,57.0 535.5,56.0 538.5,56.0 540.0,57.5 540.0,62.5 537.5,65.0ZM562.5,80.0 560.5,80.0 559.5,79.0 558.5,79.0 556.0,75.5 556.0,73.5 557.0,72.5 557.0,71.5 560.5,68.0 561.5,68.0 564.5,66.0 566.5,66.0 566.5,78.0 565.5,79.0 563.5,79.0 562.5,80.0ZM411.5,192.0 409.5,192.0 408.5,191.0 406.5,191.0 405.5,190.0 404.5,190.0 402.5,188.0 401.5,188.0 400.0,186.5 400.0,185.5 397.0,180.5 397.0,178.5 396.0,177.5 396.0,175.5 395.0,174.5 395.0,173.5 393.0,170.5 393.0,169.5 392.0,168.5 391.0,165.5 389.0,163.5 389.0,162.5 387.0,160.5 387.0,159.5 385.0,156.5 385.0,154.5 384.0,153.5 384.0,151.5 383.0,150.5 383.0,147.5 384.0,146.5 384.0,145.5 386.5,144.0 387.5,144.0 388.5,143.0 389.5,143.0 390.5,142.0 391.5,142.0 394.0,139.5 394.0,136.5 395.0,135.5 395.0,131.5 396.0,130.5 396.0,129.5 401.0,124.5 401.0,123.5 402.0,122.5 403.0,119.5 410.0,112.5 410.0,111.5 412.0,109.5 413.0,106.5 423.5,96.0 424.5,96.0 427.5,94.0 432.5,94.0 433.5,95.0 434.5,95.0 436.5,97.0 437.5,97.0 439.5,99.0 440.5,99.0 441.5,100.0 443.5,100.0 446.5,102.0 449.5,102.0 450.5,103.0 453.5,103.0 454.5,104.0 457.5,104.0 458.5,105.0 460.5,105.0 461.5,106.0 464.5,106.0 465.5,107.0 468.5,107.0 469.5,108.0 470.5,108.0 473.0,110.5 473.0,111.5 474.0,112.5 474.0,115.5 475.0,116.5 475.0,117.5 481.0,123.5 481.0,124.5 483.0,127.5 483.0,128.5 484.0,129.5 484.0,130.5 486.0,132.5 486.0,133.5 488.0,136.5 488.0,141.5 487.0,142.5 486.0,145.5 484.0,147.5 484.0,148.5 483.0,149.5 483.0,151.5 482.0,152.5 482.0,154.5 481.0,155.5 481.0,158.5 480.0,159.5 480.0,162.5 479.0,163.5 479.0,164.5 478.0,165.5 478.0,166.5 475.0,171.5 475.0,173.5 474.0,174.5 474.0,177.5 473.0,178.5 473.0,181.5 472.0,182.5 472.0,183.5 468.5,187.0 467.5,187.0 466.5,188.0 464.5,188.0 463.5,189.0 461.5,189.0 460.5,190.0 456.5,190.0 455.5,191.0 446.5,191.0 445.5,190.0 443.5,190.0 442.5,189.0 440.5,189.0 437.5,187.0 434.5,187.0 433.5,186.0 430.5,186.0 429.5,187.0 426.5,187.0 425.5,188.0 423.5,188.0 422.5,189.0 420.5,189.0 419.5,190.0 417.5,190.0 416.5,191.0 412.5,191.0 411.5,192.0ZM375.5,143.0 371.5,143.0 369.0,140.5 369.0,138.5 370.0,137.5 371.0,134.5 373.0,132.5 373.0,118.5 374.0,117.5 374.0,115.5 377.5,112.0 378.5,112.0 383.5,109.0 385.5,109.0 386.5,108.0 391.5,108.0 394.0,110.5 394.0,111.5 396.0,113.5 396.0,114.5 397.0,115.5 397.0,118.5 396.0,119.5 396.0,120.5 394.0,122.5 394.0,123.5 392.5,125.0 391.5,125.0 386.5,129.0 385.5,129.0 380.0,134.5 378.0,140.5 375.5,143.0Z"/><path fill-rule="evenodd" fill="#ed642d" d="M456.5,185.0 449.5,185.0 448.5,184.0 446.5,184.0 443.5,182.0 442.5,182.0 441.5,181.0 439.5,181.0 438.5,180.0 430.5,180.0 429.5,181.0 426.5,181.0 425.5,182.0 423.5,182.0 422.5,183.0 420.5,183.0 419.5,184.0 415.5,184.0 414.5,185.0 412.5,185.0 411.5,184.0 409.5,184.0 406.0,181.5 406.0,180.5 404.0,178.5 403.0,175.5 401.0,173.5 401.0,172.5 399.0,170.5 399.0,169.5 396.0,166.5 396.0,165.5 394.0,163.5 394.0,162.5 392.0,160.5 392.0,159.5 390.0,156.5 390.0,152.5 391.0,151.5 392.0,148.5 397.0,143.5 397.0,142.5 399.0,139.5 399.0,137.5 400.0,136.5 400.0,134.5 401.0,133.5 401.0,132.5 405.0,127.5 405.0,126.5 407.0,124.5 408.0,121.5 411.0,118.5 411.0,117.5 413.0,115.5 413.0,114.5 414.0,113.5 415.0,110.5 417.0,108.5 417.0,107.5 421.5,103.0 422.5,103.0 424.5,101.0 426.5,101.0 427.5,100.0 431.5,100.0 432.5,101.0 434.5,101.0 435.5,102.0 436.5,102.0 437.5,103.0 440.5,104.0 441.5,105.0 443.5,105.0 444.5,106.0 448.5,106.0 449.5,107.0 456.5,107.0 457.5,108.0 460.5,108.0 461.5,109.0 464.5,109.0 465.5,110.0 467.5,110.0 470.0,112.5 470.0,113.5 471.0,114.5 471.0,117.5 472.0,118.5 472.0,120.5 473.0,121.5 473.0,122.5 477.0,125.5 479.0,128.5 479.0,131.5 480.0,132.5 480.0,138.5 476.0,142.5 476.0,150.5 475.0,151.5 475.0,158.5 474.0,159.5 474.0,161.5 473.0,162.5 472.0,165.5 468.0,170.5 468.0,171.5 467.0,172.5 467.0,173.5 466.0,174.5 465.0,177.5 464.0,178.5 464.0,179.5 459.5,184.0 457.5,184.0 456.5,185.0Z"/><path fill-rule="evenodd" fill="#e63526" d="M421.5,176.0 419.5,176.0 418.5,175.0 416.5,175.0 415.5,174.0 414.5,174.0 411.0,170.5 411.0,169.5 409.5,168.0 404.5,163.0 401.5,162.0 397.0,157.5 397.0,156.5 396.0,155.5 397.0,152.5 401.0,147.5 401.0,145.5 402.0,144.5 402.0,141.5 403.0,140.5 403.0,138.5 404.0,137.5 404.0,136.5 405.0,135.5 405.0,134.5 407.0,131.5 407.0,130.5 409.0,128.5 410.0,125.5 413.0,122.5 413.0,121.5 416.0,118.5 416.0,117.5 419.0,112.5 419.0,110.5 422.5,107.0 423.5,107.0 424.5,106.0 426.5,106.0 427.5,105.0 431.5,105.0 432.5,106.0 434.5,106.0 435.5,107.0 436.5,107.0 438.5,109.0 439.5,109.0 442.5,111.0 457.5,111.0 458.5,112.0 460.5,112.0 461.5,113.0 462.5,113.0 465.0,115.5 465.0,116.5 466.0,117.5 466.0,121.5 465.0,122.5 465.0,125.5 464.0,126.5 464.0,127.5 462.0,129.5 462.0,130.5 458.0,135.5 458.0,144.5 459.0,145.5 459.0,146.5 462.5,150.0 463.5,150.0 466.0,152.5 466.0,153.5 467.0,154.5 467.0,158.5 462.5,163.0 457.5,163.0 455.5,161.0 454.5,161.0 451.5,159.0 447.5,159.0 446.5,160.0 444.5,160.0 443.5,161.0 442.5,161.0 436.0,167.5 436.0,168.5 433.5,171.0 432.5,171.0 430.5,173.0 429.5,173.0 428.5,174.0 426.5,174.0 425.5,175.0 422.5,175.0 421.5,176.0Z"/></g>
<g fill="none" stroke="#9a9a9a" stroke-width="0.6" stroke-opacity="0.7"><path d="M566.5,259.1 429.5,259.2 333.5,258.6 332.0,257.5 331.5,256.0 330.5,256.0 327.5,253.0 326.5,253.0 323.0,249.5 322.4,247.5 321.8,191.5 321.7,46.5 322.5,45.7 566.5,45.7 567.3,46.5 567.1,250.5 567.1,258.5 566.5,259.1Z"/><path d="M566.5,259.0 429.5,259.2 351.0,258.5 351.0,257.5 352.0,256.5 352.0,254.5 355.0,249.5 355.0,247.5 356.0,246.5 356.0,245.5 355.0,244.5 355.0,242.5 351.5,240.0 347.5,240.0 346.5,241.0 344.5,241.0 343.5,242.0 341.5,242.0 340.5,243.0 339.5,243.0 336.0,239.5 336.0,238.5 334.0,236.5 334.0,235.5 329.5,231.0 328.5,231.0 327.5,230.0 322.5,230.0 322.4,229.5 321.9,182.5 321.8,46.5 322.5,45.8 566.5,45.7 567.3,46.5 567.1,240.5 567.0,258.5 566.5,259.0ZM341.5,258.0 340.5,257.0 339.5,257.0 337.0,253.5 337.0,247.5 339.5,245.0 342.0,247.5 342.0,248.5 344.0,250.5 344.0,251.5 345.0,252.5 345.0,255.5 341.5,258.0Z"/><path d="M566.5,258.9 403.5,258.9 384.5,258.6 381.5,256.0 376.5,256.0 374.5,258.6 360.0,258.5 361.0,255.5 363.0,253.5 363.0,250.5 364.0,249.5 364.0,248.5 363.0,247.5 363.0,240.5 362.0,239.5 362.0,238.5 358.5,235.0 357.5,235.0 354.5,233.0 346.5,233.0 345.5,232.0 342.5,232.0 341.5,231.0 338.5,230.0 333.5,225.0 331.5,225.0 330.5,224.0 322.5,224.0 322.0,182.5 321.8,46.5 322.5,45.8 566.5,45.8 567.2,46.5 567.0,240.5 566.9,258.5 566.5,258.9Z"/><path d="M566.5,258.8 429.5,259.0 391.0,258.5 384.5,252.0 383.5,252.0 380.5,250.0 378.5,250.0 377.5,249.0 376.5,249.0 374.5,247.0 373.5,247.0 371.0,244.5 371.0,243.5 369.0,241.5 369.0,240.5 368.0,239.5 368.0,238.5 366.0,236.5 366.0,235.5 363.5,233.0 360.5,232.0 359.5,231.0 357.5,231.0 354.5,229.0 349.5,229.0 348.5,228.0 346.5,228.0 345.5,227.0 342.5,226.0 340.5,224.0 339.5,224.0 337.5,222.0 336.5,222.0 333.5,220.0 330.5,220.0 329.5,219.0 322.5,219.0 321.9,46.5 322.5,45.9 566.5,45.8 567.2,46.5 567.0,226.5 566.5,258.8Z"/><path d="M566.5,258.7 429.5,259.0 395.0,258.5 395.0,257.5 386.5,249.0 385.5,249.0 384.5,248.0 381.5,247.0 379.5,245.0 378.5,245.0 377.0,243.5 377.0,242.5 365.5,231.0 364.5,231.0 361.5,229.0 359.5,229.0 356.5,227.0 354.5,227.0 353.5,226.0 351.5,226.0 350.5,225.0 348.5,225.0 346.5,223.0 345.5,223.0 341.5,219.0 340.5,219.0 339.5,218.0 338.5,218.0 333.5,215.0 329.5,215.0 328.5,214.0 322.5,214.0 322.0,46.5 322.5,46.0 566.5,45.9 567.1,46.5 566.5,258.7Z"/><path d="M566.5,258.6 429.5,258.9 400.0,258.5 396.5,255.0 395.5,255.0 393.0,252.5 393.0,251.5 391.0,249.5 391.0,247.5 389.5,246.0 388.5,246.0 387.5,245.0 385.5,245.0 384.5,244.0 382.5,244.0 368.5,230.0 367.5,230.0 365.5,228.0 363.5,228.0 362.5,227.0 360.5,227.0 357.5,225.0 355.5,225.0 354.5,224.0 351.5,223.0 349.5,221.0 348.5,221.0 346.0,218.5 346.0,217.5 344.5,216.0 343.5,216.0 341.5,214.0 340.5,214.0 337.5,212.0 336.5,212.0 335.5,211.0 333.5,211.0 332.5,210.0 330.5,210.0 329.5,209.0 326.5,209.0 325.5,208.0 322.5,207.0 322.0,46.5 322.5,46.0 566.5,45.9 567.1,46.5 566.5,258.6Z"/><path d="M563.5,258.6 403.0,258.5 394.0,249.5 394.0,244.5 391.5,242.0 385.5,242.0 384.5,241.0 383.5,241.0 375.5,233.0 374.5,233.0 368.5,227.0 365.5,226.0 364.5,225.0 361.5,225.0 356.5,222.0 353.5,221.0 350.5,218.0 349.0,217.5 348.0,214.5 344.5,211.0 343.5,211.0 341.5,209.0 340.5,209.0 335.5,206.0 333.5,206.0 330.5,204.0 328.5,204.0 326.5,202.0 325.5,202.0 322.4,198.5 322.1,46.5 322.5,46.1 566.5,46.0 567.0,46.5 566.5,250.5 564.0,254.5 564.0,258.5 563.5,258.6Z"/><path d="M552.5,258.5 410.0,258.5 407.5,257.0 406.5,257.0 404.5,255.0 403.5,255.0 400.5,252.0 399.5,252.0 397.0,249.5 397.0,248.5 396.0,247.5 396.0,246.5 397.0,245.5 397.0,240.5 395.5,239.0 394.5,239.0 393.5,238.0 391.5,238.0 390.5,239.0 385.5,239.0 382.0,235.5 382.0,234.5 379.5,232.0 378.5,232.0 376.5,230.0 373.5,229.0 373.0,227.5 369.5,224.0 368.5,224.0 367.5,223.0 364.5,223.0 363.5,222.0 361.5,222.0 360.5,221.0 357.5,220.0 354.5,217.0 353.5,217.0 350.0,213.5 350.0,212.5 349.0,211.5 348.0,208.5 344.5,205.0 343.5,205.0 338.5,202.0 336.5,202.0 335.5,201.0 333.5,201.0 332.5,200.0 329.5,199.0 322.5,191.5 322.2,46.5 566.5,46.1 566.9,46.5 566.5,240.5 566.5,241.0 563.5,241.0 562.5,242.0 555.5,242.0 553.0,244.5 553.0,258.5 552.5,258.5Z"/><path d="M539.5,258.5 418.0,258.5 418.0,256.5 416.5,255.0 414.5,255.0 413.5,254.0 412.5,254.0 410.0,251.5 410.0,250.5 411.0,249.5 411.0,247.5 412.0,246.5 412.0,244.5 411.0,243.5 411.0,242.5 406.0,237.5 406.0,236.5 403.5,234.0 402.5,234.0 399.5,232.0 397.5,232.0 396.5,231.0 393.5,231.0 392.5,230.0 390.5,230.0 388.5,228.0 387.5,228.0 386.5,227.0 384.5,227.0 383.5,226.0 380.5,226.0 379.5,225.0 377.5,225.0 372.5,218.0 363.5,218.0 362.5,217.0 359.5,216.0 357.5,214.0 356.5,214.0 354.0,211.5 354.0,210.5 353.0,209.5 353.0,207.5 352.0,206.5 352.0,203.5 349.5,201.0 348.5,201.0 347.5,200.0 345.5,200.0 344.5,199.0 342.5,199.0 341.5,198.0 339.5,198.0 338.5,197.0 336.5,197.0 335.5,196.0 332.5,195.0 326.0,188.5 326.0,187.5 324.0,185.5 324.0,184.5 322.5,182.5 322.2,46.5 566.5,46.1 566.9,46.5 566.5,227.0 565.5,228.0 563.5,228.0 562.5,229.0 559.5,229.0 558.5,230.0 556.5,230.0 555.5,231.0 553.5,231.0 552.5,232.0 550.5,232.0 549.5,233.0 547.5,233.0 546.5,234.0 545.5,234.0 542.0,237.5 542.0,240.5 541.0,241.5 541.0,255.5 540.0,256.5 540.0,258.5 539.5,258.5Z"/><path d="M527.5,258.5 425.0,258.5 425.0,256.5 426.0,255.5 426.0,248.5 424.0,246.5 424.0,245.5 420.5,242.0 419.5,242.0 407.5,230.0 406.5,230.0 403.5,228.0 401.5,228.0 400.5,227.0 397.5,227.0 396.5,226.0 394.5,226.0 393.5,225.0 391.5,225.0 390.5,224.0 389.5,224.0 384.5,221.0 383.5,221.0 376.5,214.0 375.5,214.0 374.5,213.0 365.5,213.0 364.5,212.0 362.5,212.0 361.5,211.0 360.5,211.0 357.0,207.5 357.0,206.5 356.0,205.5 356.0,199.5 353.5,197.0 352.5,197.0 347.5,194.0 345.5,194.0 344.5,193.0 342.5,193.0 341.5,192.0 339.5,192.0 338.5,191.0 337.5,191.0 332.0,185.5 332.0,183.5 330.0,180.5 330.0,178.5 329.0,177.5 329.0,176.5 324.5,172.0 323.5,172.0 322.5,170.5 322.5,46.3 566.8,46.5 566.5,210.0 565.5,210.0 564.5,211.0 562.5,211.0 561.5,212.0 558.5,213.0 553.0,218.5 553.0,219.5 551.0,221.5 551.0,222.5 547.5,226.0 545.5,226.0 544.5,227.0 538.5,227.0 535.0,229.5 535.0,230.5 534.0,231.5 534.0,249.5 533.0,250.5 532.0,253.5 530.0,255.5 530.0,256.5 527.5,258.5Z"/><path d="M492.5,258.5 429.0,258.5 430.0,257.5 430.0,256.5 433.0,253.5 434.0,250.5 433.0,249.5 433.0,247.5 432.0,246.5 432.0,245.5 425.5,239.0 424.5,239.0 419.5,235.0 418.5,235.0 410.5,227.0 407.5,226.0 406.5,225.0 404.5,225.0 403.5,224.0 400.5,224.0 399.5,223.0 396.5,223.0 395.5,222.0 394.5,222.0 393.5,221.0 390.5,220.0 388.5,218.0 387.5,218.0 385.0,215.5 385.0,214.5 383.0,212.5 382.0,209.5 379.5,207.0 378.5,207.0 377.5,206.0 373.5,206.0 372.5,207.0 369.5,207.0 368.5,208.0 364.5,208.0 363.5,207.0 362.5,207.0 358.0,202.5 358.0,200.5 357.0,199.5 357.0,191.5 356.0,190.5 356.0,188.5 353.5,186.0 351.5,186.0 350.5,185.0 347.5,185.0 346.5,184.0 344.5,184.0 343.5,183.0 342.5,183.0 338.0,178.5 338.0,177.5 337.0,176.5 336.0,173.5 334.0,171.5 334.0,170.5 331.5,168.0 330.5,168.0 328.5,166.0 325.5,165.0 324.5,164.0 322.5,164.0 322.5,46.3 566.8,46.5 566.5,200.0 563.5,203.0 562.5,203.0 557.5,206.0 555.5,206.0 552.5,208.0 550.5,208.0 549.5,209.0 547.5,209.0 546.5,210.0 544.5,210.0 543.5,211.0 538.5,211.0 536.0,207.5 536.0,205.5 532.5,202.0 531.5,202.0 530.5,201.0 525.5,201.0 524.0,202.5 524.0,206.5 525.0,207.5 525.0,216.5 524.0,217.5 524.0,218.5 522.0,220.5 522.0,221.5 519.5,224.0 518.5,224.0 517.0,225.5 517.0,226.5 515.0,228.5 515.0,229.5 514.0,230.5 514.0,236.5 515.5,238.0 518.5,238.0 519.5,239.0 521.5,239.0 522.5,240.0 523.5,240.0 525.0,242.5 525.0,246.5 522.5,249.0 519.5,249.0 518.5,248.0 517.5,248.0 516.0,246.5 516.0,245.5 512.5,242.0 511.5,242.0 510.5,241.0 509.5,242.0 506.5,242.0 505.5,243.0 504.5,243.0 501.5,245.0 500.5,245.0 498.5,247.0 497.5,247.0 495.0,249.5 495.0,250.5 493.0,253.5 493.0,258.5 492.5,258.5Z"/><path d="M454.5,251.0 448.5,251.0 447.5,250.0 444.5,249.0 442.0,246.5 442.0,245.5 440.0,243.5 439.0,240.5 434.5,236.0 433.5,236.0 432.5,235.0 430.5,235.0 429.5,234.0 427.5,234.0 426.5,233.0 425.5,233.0 424.5,232.0 421.5,231.0 418.5,228.0 417.5,228.0 412.5,223.0 411.5,223.0 408.5,221.0 405.5,221.0 404.5,220.0 399.5,220.0 398.5,219.0 396.5,219.0 395.5,218.0 394.5,218.0 391.0,214.5 391.0,213.5 389.0,210.5 389.0,204.5 388.0,203.5 388.0,201.5 387.0,200.5 387.0,199.5 385.5,198.0 384.5,198.0 381.5,196.0 372.5,196.0 365.5,201.0 362.5,200.0 362.0,199.5 362.0,197.5 365.0,194.5 365.0,193.5 367.0,191.5 367.0,184.5 362.5,180.0 361.5,180.0 358.5,178.0 354.5,178.0 353.5,177.0 349.5,177.0 348.5,176.0 345.5,175.0 341.0,170.5 341.0,169.5 339.0,167.5 339.0,166.5 337.0,164.5 337.0,163.5 334.5,161.0 333.5,161.0 328.5,158.0 326.5,158.0 325.5,157.0 324.5,157.0 322.5,155.0 322.5,46.4 566.7,46.5 566.5,185.0 565.5,185.0 563.5,187.0 562.5,187.0 560.0,189.5 560.0,190.5 558.0,192.5 558.0,193.5 554.5,196.0 550.5,196.0 547.5,194.0 544.5,194.0 543.5,193.0 541.5,193.0 540.5,194.0 534.5,194.0 533.5,195.0 524.5,195.0 523.5,194.0 520.5,194.0 519.5,195.0 518.5,195.0 516.0,198.5 516.0,206.5 517.0,207.5 517.0,213.5 511.5,219.0 510.5,219.0 508.5,221.0 507.5,221.0 503.0,225.5 503.0,226.5 502.0,227.5 502.0,228.5 501.0,229.5 500.0,232.5 495.5,237.0 494.5,237.0 491.5,239.0 487.5,239.0 486.5,238.0 485.5,238.0 482.5,235.0 480.5,235.0 479.5,234.0 475.5,234.0 474.5,235.0 472.5,235.0 471.5,236.0 470.5,236.0 467.0,239.5 467.0,240.5 465.0,242.5 464.0,245.5 461.5,248.0 460.5,248.0 457.5,250.0 455.5,250.0 454.5,251.0ZM463.0,87.5 466.0,84.5 466.0,83.5 467.0,82.5 467.0,78.5 464.5,76.0 459.5,76.0 458.0,77.5 458.0,82.5 459.0,83.5 459.0,85.5 461.5,88.0 463.0,87.5ZM500.0,141.5 501.0,140.5 501.0,138.5 500.5,138.0 498.5,138.0 497.0,139.5 497.0,140.5 498.5,142.0 500.0,141.5ZM523.0,185.5 522.5,184.0 521.0,184.5 521.5,186.0 523.0,185.5Z"/><path d="M460.5,231.0 455.5,231.0 453.5,229.0 452.5,229.0 448.5,225.0 447.5,225.0 446.5,224.0 437.5,224.0 436.5,225.0 433.5,225.0 432.5,226.0 426.5,226.0 425.5,225.0 422.5,224.0 420.5,222.0 419.5,222.0 413.5,216.0 412.5,216.0 411.5,215.0 399.5,215.0 396.0,211.5 396.0,208.5 395.0,207.5 395.0,201.5 393.0,198.5 392.0,195.5 388.5,192.0 387.5,192.0 386.5,191.0 384.5,191.0 383.5,190.0 380.5,190.0 379.5,189.0 378.5,189.0 375.0,185.5 375.0,184.5 374.0,183.5 374.0,177.5 377.0,172.5 377.0,169.5 373.5,166.0 366.5,166.0 365.5,167.0 363.5,167.0 360.5,169.0 351.5,169.0 350.5,168.0 349.5,168.0 347.0,165.5 346.0,162.5 345.0,161.5 345.0,157.5 344.0,156.5 344.0,153.5 343.0,152.5 343.0,151.5 339.5,148.0 337.5,148.0 334.5,146.0 332.5,146.0 329.0,142.5 328.0,139.5 326.0,136.5 326.0,134.5 325.0,133.5 325.0,131.5 324.0,130.5 324.0,128.5 322.5,126.0 322.5,46.5 566.7,46.5 566.5,156.0 565.5,156.0 563.0,157.5 563.0,158.5 562.0,159.5 561.0,162.5 557.5,166.0 556.5,166.0 553.5,168.0 551.5,168.0 550.5,169.0 548.5,169.0 547.5,170.0 544.5,170.0 543.5,171.0 539.5,171.0 538.5,172.0 536.5,172.0 535.5,171.0 533.5,171.0 525.5,163.0 524.5,163.0 523.5,162.0 518.5,162.0 517.5,161.0 510.5,161.0 509.0,162.5 509.0,171.5 510.0,172.5 510.0,174.5 512.0,177.5 512.0,179.5 513.0,180.5 513.0,183.5 512.0,184.5 512.0,185.5 510.5,186.0 506.0,190.5 506.0,191.5 505.0,192.5 505.0,194.5 504.0,195.5 504.0,206.5 500.5,209.0 497.5,209.0 496.5,210.0 492.5,210.0 491.5,211.0 489.5,211.0 488.5,212.0 487.5,212.0 485.5,214.0 484.0,214.5 484.0,215.5 481.0,218.5 481.0,219.5 476.5,224.0 475.5,224.0 473.5,226.0 472.5,226.0 469.5,228.0 467.5,228.0 466.5,229.0 464.5,229.0 463.5,230.0 461.5,230.0 460.5,231.0ZM475.0,98.5 475.0,96.5 472.5,94.0 471.5,94.0 470.5,93.0 466.5,93.0 465.0,91.5 465.0,89.5 467.0,87.5 467.0,86.5 471.0,82.5 471.0,81.5 472.0,80.5 472.0,75.5 468.5,72.0 466.5,72.0 465.5,71.0 464.5,71.0 463.5,72.0 459.5,72.0 458.5,73.0 457.5,73.0 455.0,75.5 455.0,83.5 456.0,84.5 456.0,87.5 457.0,88.5 457.0,89.5 465.5,98.0 466.5,98.0 467.5,99.0 474.5,99.0 475.0,98.5ZM479.0,109.5 478.5,109.0 478.0,109.5 478.5,110.0 479.0,109.5ZM500.0,145.5 501.5,145.0 503.5,143.0 504.5,143.0 505.0,141.5 507.0,139.5 507.0,137.5 508.0,136.5 508.0,135.5 505.5,132.0 501.5,132.0 500.5,133.0 497.5,134.0 496.0,136.5 496.0,137.5 495.0,138.5 495.0,142.5 498.5,146.0 500.0,145.5ZM518.5,173.0 517.5,173.0 515.0,170.5 516.5,168.0 518.5,168.0 520.0,169.5 520.0,171.5 518.5,173.0Z"/><path d="M464.5,221.0 461.5,221.0 460.5,220.0 458.5,220.0 455.5,217.0 454.5,217.0 452.5,215.0 444.5,215.0 443.5,216.0 439.5,216.0 438.5,217.0 431.5,217.0 430.5,216.0 428.5,216.0 427.5,215.0 426.5,215.0 424.0,212.5 424.0,211.5 422.0,208.5 422.0,207.5 418.5,204.0 417.5,204.0 416.5,203.0 413.5,203.0 412.5,204.0 404.5,204.0 403.5,203.0 402.5,203.0 401.0,201.5 401.0,200.5 398.0,197.5 398.0,196.5 396.0,194.5 396.0,193.5 389.5,187.0 388.5,187.0 385.5,184.0 384.0,183.5 384.0,182.5 383.0,181.5 383.0,176.5 384.0,175.5 384.0,169.5 383.0,168.5 383.0,167.5 377.5,162.0 376.5,162.0 373.5,160.0 371.5,160.0 370.5,159.0 366.5,159.0 365.5,158.0 359.5,158.0 358.5,157.0 357.5,157.0 355.0,154.5 355.0,153.5 353.0,151.5 353.0,149.5 352.0,148.5 352.0,147.5 350.0,145.5 350.0,144.5 345.5,140.0 344.5,140.0 343.5,139.0 341.5,139.0 338.5,137.0 337.5,137.0 333.0,132.5 333.0,130.5 332.0,129.5 332.0,124.5 333.0,123.5 333.0,121.5 335.0,118.5 335.0,116.5 336.0,115.5 336.0,107.5 335.0,106.5 335.0,105.5 332.5,103.0 331.5,103.0 326.5,100.0 325.5,100.0 322.5,97.0 322.5,88.0 323.0,86.5 328.0,81.5 328.0,80.5 330.0,77.5 330.0,66.5 331.0,65.5 332.0,62.5 334.5,60.0 335.5,60.0 337.5,58.0 338.5,58.0 343.0,53.5 343.0,52.5 344.0,51.5 344.0,48.5 345.0,47.5 345.0,46.5 403.0,46.5 403.0,47.5 402.0,48.5 402.0,50.5 403.5,53.0 405.5,55.0 406.5,55.0 407.5,56.0 410.5,56.0 411.5,55.0 413.5,55.0 414.5,54.0 415.5,54.0 419.0,50.5 419.0,49.5 421.0,46.5 435.0,46.5 435.0,47.5 436.0,48.5 436.0,52.5 435.0,53.5 435.0,54.5 434.0,55.5 433.0,58.5 432.0,59.5 432.0,61.5 434.5,64.0 437.5,64.0 438.5,63.0 439.5,63.0 444.5,57.0 448.5,57.0 449.5,56.0 450.5,56.0 452.5,54.0 453.5,54.0 458.5,50.0 459.5,50.0 463.0,46.5 566.6,46.5 566.5,143.0 565.5,144.0 563.5,144.0 560.5,146.0 558.5,146.0 557.5,147.0 555.5,147.0 554.5,148.0 552.5,148.0 551.5,149.0 548.5,149.0 546.0,146.5 545.0,143.5 543.0,141.5 542.5,140.0 541.5,140.0 540.5,139.0 534.5,139.0 533.5,140.0 532.5,140.0 529.0,143.5 529.0,144.5 528.0,145.5 527.0,148.5 525.5,150.0 524.5,150.0 522.5,152.0 520.5,152.0 519.5,153.0 508.5,153.0 507.5,152.0 505.5,152.0 504.5,151.0 503.5,151.0 503.0,150.5 503.0,148.5 504.5,147.0 505.5,147.0 511.5,141.0 512.5,141.0 513.0,139.5 516.0,136.5 516.0,129.5 514.5,127.0 511.5,125.0 504.5,125.0 502.5,127.0 501.5,127.0 499.5,129.0 498.5,129.0 494.0,133.5 494.0,136.5 493.0,137.5 493.0,145.5 494.0,146.5 494.0,148.5 496.0,151.5 496.0,159.5 498.0,162.5 498.0,163.5 503.0,168.5 503.0,169.5 504.0,170.5 504.0,176.5 503.0,177.5 502.0,180.5 501.0,181.5 501.0,182.5 499.0,184.5 499.0,185.5 498.0,186.5 498.0,188.5 497.0,189.5 497.0,191.5 496.0,192.5 496.0,195.5 495.0,196.5 494.0,199.5 492.5,201.0 491.5,201.0 486.5,204.0 484.5,204.0 483.5,205.0 481.5,205.0 480.5,206.0 477.5,206.0 476.5,207.0 475.5,207.0 472.0,210.5 472.0,212.5 471.0,213.5 471.0,215.5 466.5,220.0 465.5,220.0 464.5,221.0ZM481.0,112.5 481.0,110.5 483.5,108.0 486.5,107.0 495.0,98.5 495.0,97.5 497.0,95.5 497.0,90.5 493.5,87.0 488.5,87.0 487.5,86.0 478.5,86.0 478.0,85.5 478.0,82.5 479.0,81.5 479.0,77.5 478.0,76.5 478.0,71.5 477.0,70.5 477.0,68.5 476.0,67.5 476.0,66.5 474.5,65.0 467.5,65.0 466.5,66.0 464.5,66.0 463.5,67.0 462.5,67.0 459.5,69.0 458.5,69.0 457.5,70.0 454.5,70.0 453.0,71.5 453.0,72.5 452.0,73.5 452.0,75.5 451.0,76.5 451.0,81.5 452.0,82.5 452.0,87.5 453.0,88.5 453.0,91.5 454.0,92.5 454.0,93.5 457.5,97.0 458.5,97.0 460.5,99.0 461.5,99.0 466.5,102.0 469.5,102.0 470.5,103.0 472.5,103.0 476.0,106.5 476.0,108.5 477.0,109.5 477.0,111.5 478.5,113.0 480.5,113.0 481.0,112.5ZM471.5,90.0 469.5,90.0 469.0,89.5 470.5,88.0 472.5,88.0 473.0,88.5 471.5,90.0Z"/><path d="M533.5,127.0 528.5,127.0 525.0,123.5 525.0,117.5 531.0,111.5 531.0,110.5 532.0,109.5 532.0,103.5 531.0,102.5 530.0,99.5 528.5,98.0 526.5,98.0 525.5,97.0 520.5,97.0 519.5,98.0 512.5,98.0 510.0,95.5 510.0,93.5 509.0,92.5 509.0,89.5 508.0,88.5 508.0,80.5 509.0,79.5 509.0,78.5 515.0,72.5 515.0,71.5 516.0,70.5 516.0,64.5 513.5,62.0 512.5,62.0 511.5,61.0 504.5,61.0 503.5,62.0 499.5,62.0 497.0,59.5 497.0,58.5 496.0,57.5 496.0,54.5 495.0,53.5 495.0,46.5 566.6,46.5 566.5,116.0 564.0,113.5 564.0,112.5 560.5,109.0 553.5,109.0 552.5,110.0 550.5,110.0 549.5,111.0 547.5,111.0 546.5,112.0 545.5,112.0 541.0,116.5 539.0,122.5 535.5,126.0 534.5,126.0 533.5,127.0ZM385.5,63.0 383.5,63.0 383.0,62.5 383.0,59.5 384.5,58.0 385.5,58.0 387.0,59.5 387.0,61.5 385.5,63.0ZM447.5,198.0 440.5,198.0 439.5,197.0 438.5,197.0 435.5,195.0 433.5,195.0 432.5,194.0 426.5,194.0 425.5,195.0 421.5,195.0 420.5,196.0 414.5,196.0 413.5,197.0 405.5,197.0 404.5,196.0 403.5,196.0 397.0,189.5 397.0,188.5 394.0,185.5 394.0,184.5 392.0,182.5 392.0,181.5 391.0,180.5 391.0,178.5 390.0,177.5 390.0,173.5 389.0,172.5 389.0,170.5 388.0,169.5 388.0,168.5 387.0,167.5 386.0,164.5 377.5,156.0 376.5,156.0 371.5,153.0 369.5,153.0 368.5,152.0 366.5,152.0 365.5,151.0 362.5,150.0 359.0,146.5 359.0,145.5 358.0,144.5 358.0,142.5 357.0,141.5 357.0,138.5 356.0,137.5 356.0,136.5 357.0,135.5 357.0,132.5 358.0,131.5 358.0,129.5 359.0,128.5 359.0,127.5 360.0,126.5 360.0,124.5 357.5,121.0 355.5,121.0 354.5,120.0 352.5,120.0 351.5,119.0 350.5,119.0 348.0,116.5 348.0,115.5 346.0,112.5 346.0,102.5 347.0,101.5 347.0,100.5 352.5,95.0 353.5,95.0 355.0,93.5 355.0,92.5 357.0,90.5 357.0,89.5 358.0,88.5 358.0,85.5 359.0,84.5 359.0,80.5 360.0,79.5 360.0,78.5 362.5,76.0 363.5,76.0 365.5,74.0 366.5,74.0 367.5,73.0 369.5,73.0 370.5,72.0 372.5,72.0 373.5,71.0 378.5,71.0 380.0,72.5 380.0,73.5 381.0,74.5 382.0,77.5 384.0,79.5 384.0,80.5 385.5,82.0 386.5,82.0 387.5,83.0 394.5,83.0 395.5,82.0 397.5,82.0 398.5,81.0 401.5,80.0 403.0,78.5 403.0,77.5 405.0,74.5 405.0,72.5 409.5,68.0 410.5,68.0 411.5,67.0 416.5,67.0 421.0,71.5 421.0,76.5 420.0,77.5 420.0,78.5 414.0,84.5 414.0,89.5 416.5,91.0 417.5,90.0 419.5,90.0 421.5,88.0 422.5,88.0 425.0,85.5 425.0,84.5 429.0,79.5 429.0,78.5 430.5,78.0 432.0,76.5 432.0,75.5 434.5,73.0 438.5,73.0 440.0,74.5 440.0,75.5 442.0,78.5 442.0,88.5 443.0,89.5 443.0,91.5 447.5,96.0 448.5,96.0 450.5,98.0 453.5,99.0 456.5,101.0 458.5,101.0 461.5,103.0 463.5,103.0 464.5,104.0 466.5,104.0 467.5,105.0 470.5,105.0 472.5,107.0 473.5,107.0 475.0,109.5 475.0,110.5 476.0,111.5 476.0,113.5 483.0,120.5 485.0,126.5 491.0,131.5 491.0,142.5 490.0,143.5 490.0,147.5 489.0,148.5 489.0,152.5 488.0,153.5 488.0,167.5 489.0,168.5 489.0,170.5 490.0,171.5 490.0,173.5 491.0,174.5 491.0,182.5 490.0,183.5 490.0,188.5 489.0,189.5 489.0,191.5 487.0,193.5 486.5,195.0 485.5,195.0 482.5,197.0 478.5,197.0 477.5,196.0 473.5,196.0 472.5,195.0 457.5,195.0 456.5,196.0 452.5,196.0 451.5,197.0 448.5,197.0 447.5,198.0ZM504.5,114.0 502.5,114.0 500.0,111.5 500.0,110.5 501.0,109.5 501.0,108.5 503.5,106.0 504.5,106.0 505.5,105.0 507.5,105.0 509.0,106.5 509.0,110.5 506.5,113.0 505.5,113.0 504.5,114.0Z"/><path d="M549.5,48.0 544.5,48.0 543.0,46.5 554.0,46.5 553.5,47.0 550.5,47.0 549.5,48.0ZM566.5,51.0 566.0,50.5 566.0,47.5 565.0,46.5 566.5,46.5 566.5,51.0ZM537.5,65.0 532.5,65.0 531.0,63.5 531.0,59.5 533.5,57.0 534.5,57.0 535.5,56.0 538.5,56.0 540.0,57.5 540.0,62.5 537.5,65.0ZM562.5,80.0 560.5,80.0 559.5,79.0 558.5,79.0 556.0,75.5 556.0,73.5 557.0,72.5 557.0,71.5 560.5,68.0 561.5,68.0 564.5,66.0 566.5,66.0 566.5,78.0 565.5,79.0 563.5,79.0 562.5,80.0ZM411.5,192.0 409.5,192.0 408.5,191.0 406.5,191.0 405.5,190.0 404.5,190.0 402.5,188.0 401.5,188.0 400.0,186.5 400.0,185.5 397.0,180.5 397.0,178.5 396.0,177.5 396.0,175.5 395.0,174.5 395.0,173.5 393.0,170.5 393.0,169.5 392.0,168.5 391.0,165.5 389.0,163.5 389.0,162.5 387.0,160.5 387.0,159.5 385.0,156.5 385.0,154.5 384.0,153.5 384.0,151.5 383.0,150.5 383.0,147.5 384.0,146.5 384.0,145.5 386.5,144.0 387.5,144.0 388.5,143.0 389.5,143.0 390.5,142.0 391.5,142.0 394.0,139.5 394.0,136.5 395.0,135.5 395.0,131.5 396.0,130.5 396.0,129.5 401.0,124.5 401.0,123.5 402.0,122.5 403.0,119.5 410.0,112.5 410.0,111.5 412.0,109.5 413.0,106.5 423.5,96.0 424.5,96.0 427.5,94.0 432.5,94.0 433.5,95.0 434.5,95.0 436.5,97.0 437.5,97.0 439.5,99.0 440.5,99.0 441.5,100.0 443.5,100.0 446.5,102.0 449.5,102.0 450.5,103.0 453.5,103.0 454.5,104.0 457.5,104.0 458.5,105.0 460.5,105.0 461.5,106.0 464.5,106.0 465.5,107.0 468.5,107.0 469.5,108.0 470.5,108.0 473.0,110.5 473.0,111.5 474.0,112.5 474.0,115.5 475.0,116.5 475.0,117.5 481.0,123.5 481.0,124.5 483.0,127.5 483.0,128.5 484.0,129.5 484.0,130.5 486.0,132.5 486.0,133.5 488.0,136.5 488.0,141.5 487.0,142.5 486.0,145.5 484.0,147.5 484.0,148.5 483.0,149.5 483.0,151.5 482.0,152.5 482.0,154.5 481.0,155.5 481.0,158.5 480.0,159.5 480.0,162.5 479.0,163.5 479.0,164.5 478.0,165.5 478.0,166.5 475.0,171.5 475.0,173.5 474.0,174.5 474.0,177.5 473.0,178.5 473.0,181.5 472.0,182.5 472.0,183.5 468.5,187.0 467.5,187.0 466.5,188.0 464.5,188.0 463.5,189.0 461.5,189.0 460.5,190.0 456.5,190.0 455.5,191.0 446.5,191.0 445.5,190.0 443.5,190.0 442.5,189.0 440.5,189.0 437.5,187.0 434.5,187.0 433.5,186.0 430.5,186.0 429.5,187.0 426.5,187.0 425.5,188.0 423.5,188.0 422.5,189.0 420.5,189.0 419.5,190.0 417.5,190.0 416.5,191.0 412.5,191.0 411.5,192.0ZM375.5,143.0 371.5,143.0 369.0,140.5 369.0,138.5 370.0,137.5 371.0,134.5 373.0,132.5 373.0,118.5 374.0,117.5 374.0,115.5 377.5,112.0 378.5,112.0 383.5,109.0 385.5,109.0 386.5,108.0 391.5,108.0 394.0,110.5 394.0,111.5 396.0,113.5 396.0,114.5 397.0,115.5 397.0,118.5 396.0,119.5 396.0,120.5 394.0,122.5 394.0,123.5 392.5,125.0 391.5,125.0 386.5,129.0 385.5,129.0 380.0,134.5 378.0,140.5 375.5,143.0Z"/><path d="M456.5,185.0 449.5,185.0 448.5,184.0 446.5,184.0 443.5,182.0 442.5,182.0 441.5,181.0 439.5,181.0 438.5,180.0 430.5,180.0 429.5,181.0 426.5,181.0 425.5,182.0 423.5,182.0 422.5,183.0 420.5,183.0 419.5,184.0 415.5,184.0 414.5,185.0 412.5,185.0 411.5,184.0 409.5,184.0 406.0,181.5 406.0,180.5 404.0,178.5 403.0,175.5 401.0,173.5 401.0,172.5 399.0,170.5 399.0,169.5 396.0,166.5 396.0,165.5 394.0,163.5 394.0,162.5 392.0,160.5 392.0,159.5 390.0,156.5 390.0,152.5 391.0,151.5 392.0,148.5 397.0,143.5 397.0,142.5 399.0,139.5 399.0,137.5 400.0,136.5 400.0,134.5 401.0,133.5 401.0,132.5 405.0,127.5 405.0,126.5 407.0,124.5 408.0,121.5 411.0,118.5 411.0,117.5 413.0,115.5 413.0,114.5 414.0,113.5 415.0,110.5 417.0,108.5 417.0,107.5 421.5,103.0 422.5,103.0 424.5,101.0 426.5,101.0 427.5,100.0 431.5,100.0 432.5,101.0 434.5,101.0 435.5,102.0 436.5,102.0 437.5,103.0 440.5,104.0 441.5,105.0 443.5,105.0 444.5,106.0 448.5,106.0 449.5,107.0 456.5,107.0 457.5,108.0 460.5,108.0 461.5,109.0 464.5,109.0 465.5,110.0 467.5,110.0 470.0,112.5 470.0,113.5 471.0,114.5 471.0,117.5 472.0,118.5 472.0,120.5 473.0,121.5 473.0,122.5 477.0,125.5 479.0,128.5 479.0,131.5 480.0,132.5 480.0,138.5 476.0,142.5 476.0,150.5 475.0,151.5 475.0,158.5 474.0,159.5 474.0,161.5 473.0,162.5 472.0,165.5 468.0,170.5 468.0,171.5 467.0,172.5 467.0,173.5 466.0,174.5 465.0,177.5 464.0,178.5 464.0,179.5 459.5,184.0 457.5,184.0 456.5,185.0Z"/><path d="M421.5,176.0 419.5,176.0 418.5,175.0 416.5,175.0 415.5,174.0 414.5,174.0 411.0,170.5 411.0,169.5 409.5,168.0 404.5,163.0 401.5,162.0 397.0,157.5 397.0,156.5 396.0,155.5 397.0,152.5 401.0,147.5 401.0,145.5 402.0,144.5 402.0,141.5 403.0,140.5 403.0,138.5 404.0,137.5 404.0,136.5 405.0,135.5 405.0,134.5 407.0,131.5 407.0,130.5 409.0,128.5 410.0,125.5 413.0,122.5 413.0,121.5 416.0,118.5 416.0,117.5 419.0,112.5 419.0,110.5 422.5,107.0 423.5,107.0 424.5,106.0 426.5,106.0 427.5,105.0 431.5,105.0 432.5,106.0 434.5,106.0 435.5,107.0 436.5,107.0 438.5,109.0 439.5,109.0 442.5,111.0 457.5,111.0 458.5,112.0 460.5,112.0 461.5,113.0 462.5,113.0 465.0,115.5 465.0,116.5 466.0,117.5 466.0,121.5 465.0,122.5 465.0,125.5 464.0,126.5 464.0,127.5 462.0,129.5 462.0,130.5 458.0,135.5 458.0,144.5 459.0,145.5 459.0,146.5 462.5,150.0 463.5,150.0 466.0,152.5 466.0,153.5 467.0,154.5 467.0,158.5 462.5,163.0 457.5,163.0 455.5,161.0 454.5,161.0 451.5,159.0 447.5,159.0 446.5,160.0 444.5,160.0 443.5,161.0 442.5,161.0 436.0,167.5 436.0,168.5 433.5,171.0 432.5,171.0 430.5,173.0 429.5,173.0 428.5,174.0 426.5,174.0 425.5,175.0 422.5,175.0 421.5,176.0Z"/></g>
<defs><linearGradient id="rs" gradientUnits="userSpaceOnUse" x1="444" y1="46" x2="566" y2="258"><stop offset="0" stop-color="#60b888"/><stop offset="0.12" stop-color="#6cbd70"/><stop offset="0.3" stop-color="#84c040"/><stop offset="0.45" stop-color="#b0d030"/><stop offset="0.7" stop-color="#98c830"/><stop offset="0.8" stop-color="#6cbd70"/><stop offset="0.88" stop-color="#40b8b8"/><stop offset="1" stop-color="#28b4c8"/></linearGradient><linearGradient id="ls" gradientUnits="userSpaceOnUse" x1="444" y1="46" x2="400" y2="135"><stop offset="0" stop-color="#c8d428"/><stop offset="0.4" stop-color="#e0dc18"/><stop offset="0.6" stop-color="#f8d010"/><stop offset="1" stop-color="#f8c010"/></linearGradient></defs><polygon points="444.1,46.5 566.5,258.5 564.2,259.8 441.8,47.8" fill="url(#rs)"/><polygon points="444.1,46.5 400.9,135.5 402.5,136.4 445.7,47.4" fill="url(#ls)" opacity="0.9"/><g stroke="#1a1a1a" stroke-width="0.7" fill="none"><line x1="444.3" y1="53.0" x2="365.8" y2="189.2"/><line x1="444.3" y1="53.0" x2="561.8" y2="256.5"/><line x1="444.4" y1="59.0" x2="421.7" y2="97.4"/><line x1="444.4" y1="59.0" x2="433.2" y2="104.5"/><line x1="444.4" y1="59.0" x2="448.2" y2="104.5"/><line x1="444.4" y1="59.0" x2="455.5" y2="104.5"/><line x1="384.7" y1="187.3" x2="422.2" y2="252.2"/><line x1="396.0" y1="181.3" x2="422.2" y2="252.2"/><line x1="396.0" y1="181.3" x2="430.6" y2="252.2"/><line x1="422.2" y1="149.3" x2="430.6" y2="252.2"/><line x1="429.7" y1="149.3" x2="430.6" y2="252.2"/><line x1="429.7" y1="149.3" x2="451.6" y2="252.2"/><line x1="429.7" y1="149.3" x2="470.2" y2="245.8"/><line x1="459.2" y1="149.3" x2="470.2" y2="245.8"/><line x1="429.7" y1="149.3" x2="430.6" y2="252.2"/><line x1="477.7" y1="142.6" x2="470.2" y2="245.8"/><line x1="489.0" y1="187.6" x2="451.6" y2="252.2"/><line x1="496.2" y1="188.0" x2="470.2" y2="245.8"/><line x1="489.0" y1="187.6" x2="470.2" y2="245.8"/><line x1="503.9" y1="162.0" x2="470.2" y2="245.8"/><line x1="459.2" y1="149.3" x2="489.0" y2="187.6"/><line x1="477.7" y1="142.6" x2="496.2" y2="188.0"/><line x1="451.6" y1="110.4" x2="489.0" y2="187.6"/><line x1="455.5" y1="116.8" x2="489.0" y2="187.6"/><line x1="470.2" y1="116.8" x2="496.2" y2="188.0"/><line x1="474.0" y1="110.7" x2="496.2" y2="188.0"/><line x1="462.6" y1="129.9" x2="489.0" y2="187.6"/><line x1="481.1" y1="136.2" x2="496.2" y2="188.0"/><line x1="488.7" y1="136.2" x2="499.6" y2="181.5"/><line x1="451.6" y1="135.8" x2="489.0" y2="187.6"/><line x1="433.1" y1="142.6" x2="489.0" y2="187.6"/><line x1="470.2" y1="104.5" x2="477.7" y2="142.6"/><line x1="477.7" y1="142.6" x2="503.9" y2="162.0"/><line x1="503.9" y1="162.0" x2="499.6" y2="181.5"/><line x1="499.6" y1="181.5" x2="496.2" y2="188.0"/><line x1="496.2" y1="188.0" x2="489.0" y2="187.6"/><line x1="496.2" y1="188.0" x2="525.9" y2="252.2"/><line x1="496.2" y1="188.0" x2="541.1" y2="252.2"/><line x1="499.6" y1="181.5" x2="555.5" y2="252.2"/><line x1="503.9" y1="162.0" x2="559.7" y2="256.8"/><line x1="499.6" y1="181.5" x2="541.1" y2="252.2"/><line x1="496.2" y1="188.0" x2="529.3" y2="258.0"/><line x1="489.0" y1="187.6" x2="525.9" y2="252.2"/><line x1="489.0" y1="187.6" x2="529.3" y2="258.0"/><line x1="499.6" y1="181.5" x2="525.9" y2="252.2"/><line x1="503.9" y1="162.0" x2="555.5" y2="252.2"/><line x1="363.6" y1="188.1" x2="422.2" y2="252.2"/><line x1="373.7" y1="181.3" x2="422.2" y2="252.2"/><line x1="400.0" y1="135.8" x2="422.2" y2="252.2"/><line x1="407.0" y1="135.8" x2="430.6" y2="252.2"/><line x1="422.2" y1="149.3" x2="422.2" y2="252.2"/><line x1="385.0" y1="162.5" x2="384.7" y2="187.3"/><line x1="384.7" y1="174.9" x2="396.0" y2="181.3"/><line x1="385.0" y1="162.5" x2="384.7" y2="174.9"/><line x1="373.7" y1="181.3" x2="370.4" y2="188.1"/><line x1="384.7" y1="187.3" x2="396.0" y2="181.3"/><line x1="385.0" y1="162.5" x2="400.0" y2="135.8"/><line x1="407.0" y1="135.8" x2="396.0" y2="181.3"/><line x1="400.0" y1="135.8" x2="363.6" y2="188.1"/><line x1="411.3" y1="129.9" x2="422.2" y2="149.3"/><line x1="365.8" y1="189.2" x2="325.6" y2="256.4"/><line x1="325.6" y1="256.4" x2="417.1" y2="258.3"/><line x1="417.1" y1="258.3" x2="422.2" y2="252.2"/><line x1="422.2" y1="252.2" x2="430.6" y2="252.2"/><line x1="430.6" y1="252.2" x2="434.0" y2="258.3"/><line x1="434.0" y1="258.3" x2="441.6" y2="258.0"/><line x1="441.6" y1="258.0" x2="451.6" y2="252.2"/><line x1="451.6" y1="252.2" x2="470.2" y2="245.8"/><line x1="470.2" y1="245.8" x2="477.8" y2="258.3"/><line x1="477.8" y1="258.3" x2="484.5" y2="258.3"/><line x1="484.5" y1="258.3" x2="525.9" y2="252.2"/><line x1="525.9" y1="252.2" x2="529.3" y2="258.0"/><line x1="529.3" y1="258.0" x2="536.9" y2="257.6"/><line x1="536.9" y1="257.6" x2="541.1" y2="252.2"/><line x1="541.1" y1="252.2" x2="555.5" y2="252.2"/><line x1="555.5" y1="252.2" x2="559.7" y2="256.8"/><line x1="559.7" y1="256.8" x2="566.5" y2="258.5"/><line x1="448.3" y1="129.9" x2="451.6" y2="135.8"/><line x1="404.4" y1="117.5" x2="414.6" y2="123.1"/><line x1="488.7" y1="136.2" x2="477.7" y2="142.6"/><line x1="483.7" y1="116.8" x2="485.3" y2="129.9"/><line x1="455.5" y1="116.8" x2="455.0" y2="129.9"/><line x1="440.8" y1="117.3" x2="429.8" y2="123.1"/><line x1="410.6" y1="130.1" x2="411.3" y2="129.9"/><line x1="455.5" y1="104.5" x2="455.5" y2="116.8"/><line x1="429.4" y1="110.7" x2="422.2" y2="123.1"/><line x1="470.2" y1="116.8" x2="480.3" y2="111.3"/><line x1="444.9" y1="123.5" x2="429.7" y2="135.8"/><line x1="422.2" y1="149.3" x2="433.1" y2="142.6"/><line x1="418.3" y1="123.3" x2="422.2" y2="110.7"/><line x1="470.2" y1="116.8" x2="466.0" y2="124.0"/><line x1="448.3" y1="129.9" x2="433.1" y2="142.6"/><line x1="418.3" y1="123.3" x2="413.8" y2="124.0"/><line x1="483.7" y1="116.8" x2="488.7" y2="136.2"/><line x1="418.3" y1="123.3" x2="429.7" y2="135.8"/><line x1="444.9" y1="123.5" x2="455.5" y2="116.8"/><line x1="429.4" y1="110.7" x2="448.2" y2="104.5"/><line x1="502.2" y1="149.3" x2="503.9" y2="162.0"/><line x1="485.3" y1="129.9" x2="481.1" y2="136.2"/><line x1="470.2" y1="104.5" x2="455.5" y2="116.8"/><line x1="459.2" y1="149.3" x2="477.7" y2="142.6"/><line x1="448.2" y1="104.5" x2="455.5" y2="104.5"/><line x1="418.3" y1="123.3" x2="422.2" y2="123.1"/><line x1="407.0" y1="135.8" x2="411.3" y2="129.9"/><line x1="470.2" y1="104.5" x2="480.3" y2="111.3"/><line x1="455.5" y1="104.5" x2="470.2" y2="104.5"/><line x1="474.0" y1="110.7" x2="480.3" y2="111.3"/><line x1="422.2" y1="123.1" x2="429.7" y2="135.8"/><line x1="444.9" y1="123.5" x2="455.0" y2="129.9"/><line x1="448.2" y1="104.5" x2="451.6" y2="110.4"/><line x1="414.6" y1="110.7" x2="414.6" y2="123.1"/><line x1="407.0" y1="135.8" x2="422.2" y2="149.3"/><line x1="481.1" y1="136.2" x2="477.7" y2="142.6"/><line x1="411.3" y1="129.9" x2="413.8" y2="124.0"/><line x1="462.6" y1="129.9" x2="466.0" y2="124.0"/><line x1="411.3" y1="129.9" x2="429.7" y2="135.8"/><line x1="480.3" y1="111.3" x2="483.7" y2="116.8"/><line x1="422.2" y1="149.3" x2="429.7" y2="135.8"/><line x1="418.3" y1="123.3" x2="414.6" y2="110.7"/><line x1="448.3" y1="129.9" x2="429.7" y2="135.8"/><line x1="488.7" y1="136.2" x2="502.2" y2="149.3"/><line x1="418.3" y1="123.3" x2="411.3" y2="129.9"/><line x1="462.6" y1="129.9" x2="481.1" y2="136.2"/><line x1="440.8" y1="117.3" x2="451.6" y2="110.4"/><line x1="455.0" y1="129.9" x2="462.6" y2="129.9"/><line x1="429.4" y1="110.7" x2="429.8" y2="123.1"/><line x1="422.2" y1="149.3" x2="429.7" y2="149.3"/><line x1="451.6" y1="135.8" x2="433.1" y2="142.6"/><line x1="385.9" y1="150.7" x2="382.5" y2="157.0"/><line x1="421.7" y1="97.4" x2="422.2" y2="110.7"/><line x1="400.0" y1="135.8" x2="407.0" y2="135.8"/><line x1="470.2" y1="104.5" x2="474.0" y2="110.7"/><line x1="462.6" y1="129.9" x2="451.6" y2="135.8"/><line x1="455.5" y1="116.8" x2="470.2" y2="116.8"/><line x1="382.5" y1="157.0" x2="385.0" y2="162.5"/><line x1="404.4" y1="117.5" x2="413.8" y2="124.0"/><line x1="466.0" y1="124.0" x2="481.1" y2="136.2"/><line x1="440.8" y1="117.3" x2="455.5" y2="116.8"/><line x1="451.6" y1="135.8" x2="459.2" y2="149.3"/><line x1="418.3" y1="123.3" x2="414.6" y2="123.1"/><line x1="414.6" y1="110.7" x2="422.2" y2="110.7"/><line x1="485.3" y1="129.9" x2="488.7" y2="136.2"/><line x1="470.2" y1="104.5" x2="470.2" y2="116.8"/><line x1="444.9" y1="123.5" x2="440.8" y2="117.3"/><line x1="444.9" y1="123.5" x2="429.8" y2="123.1"/><line x1="410.6" y1="130.1" x2="407.0" y2="135.8"/><line x1="422.2" y1="110.7" x2="422.2" y2="123.1"/><line x1="448.3" y1="129.9" x2="455.0" y2="129.9"/><line x1="400.0" y1="135.8" x2="385.9" y2="150.7"/><line x1="440.8" y1="117.3" x2="448.2" y2="104.5"/><line x1="410.6" y1="130.1" x2="413.8" y2="124.0"/><line x1="455.0" y1="129.9" x2="466.0" y2="124.0"/><line x1="429.8" y1="123.1" x2="429.7" y2="135.8"/><line x1="470.2" y1="116.8" x2="483.7" y2="116.8"/><line x1="470.2" y1="116.8" x2="485.3" y2="129.9"/><line x1="410.6" y1="130.1" x2="404.4" y2="117.5"/><line x1="462.6" y1="129.9" x2="477.7" y2="142.6"/><line x1="404.4" y1="117.5" x2="400.0" y2="135.8"/><line x1="451.6" y1="110.4" x2="455.5" y2="116.8"/><line x1="421.7" y1="97.4" x2="414.6" y2="110.7"/><line x1="422.2" y1="123.1" x2="429.8" y2="123.1"/><line x1="440.8" y1="117.3" x2="429.4" y2="110.7"/><line x1="466.0" y1="124.0" x2="485.3" y2="129.9"/><line x1="455.0" y1="129.9" x2="451.6" y2="135.8"/><line x1="422.2" y1="110.7" x2="429.4" y2="110.7"/><line x1="474.0" y1="110.7" x2="470.2" y2="116.8"/><line x1="429.7" y1="135.8" x2="433.1" y2="142.6"/><line x1="444.9" y1="123.5" x2="448.3" y2="129.9"/><line x1="385.9" y1="150.7" x2="385.0" y2="162.5"/><line x1="421.7" y1="97.4" x2="429.4" y2="110.7"/><line x1="414.6" y1="110.7" x2="404.4" y2="117.5"/><line x1="481.1" y1="136.2" x2="488.7" y2="136.2"/><line x1="462.6" y1="129.9" x2="459.2" y2="149.3"/><line x1="433.1" y1="142.6" x2="429.7" y2="149.3"/><line x1="414.6" y1="123.1" x2="413.8" y2="124.0"/><line x1="410.6" y1="130.1" x2="400.0" y2="135.8"/><line x1="455.5" y1="116.8" x2="466.0" y2="124.0"/><line x1="455.5" y1="104.5" x2="451.6" y2="110.4"/></g><g fill="#9a9a9a" fill-opacity="0.6" stroke="#3a2a2a" stroke-width="0.6" stroke-opacity="0.8"><circle cx="439.5" cy="60.0" r="1.8"/><circle cx="436.3" cy="66.0" r="1.8"/><circle cx="433.0" cy="72.0" r="1.8"/><circle cx="429.6" cy="78.0" r="1.8"/><circle cx="426.2" cy="84.0" r="1.8"/><circle cx="422.8" cy="90.0" r="1.8"/><circle cx="419.5" cy="96.0" r="1.8"/><circle cx="418.0" cy="116.3" r="2.4"/><circle cx="425.6" cy="116.3" r="2.4"/><circle cx="432.7" cy="78.6" r="2.4"/><circle cx="428.4" cy="84.5" r="2.4"/><circle cx="436.9" cy="84.5" r="2.4"/><circle cx="425.0" cy="89.6" r="2.4"/><circle cx="433.5" cy="89.6" r="2.4"/><circle cx="429.4" cy="97.7" r="2.4"/><circle cx="436.5" cy="97.7" r="2.4"/><circle cx="418.0" cy="103.6" r="2.4"/><circle cx="426.0" cy="103.6" r="2.4"/><circle cx="433.2" cy="104.5" r="2.4"/><circle cx="440.8" cy="104.5" r="2.4"/><circle cx="411.2" cy="116.3" r="2.4"/><circle cx="406.1" cy="122.2" r="2.4"/><circle cx="436.5" cy="110.4" r="2.4"/><circle cx="433.2" cy="116.8" r="2.4"/><circle cx="437.4" cy="123.0" r="2.4"/><circle cx="459.2" cy="97.4" r="2.4"/><circle cx="466.8" cy="97.4" r="2.4"/><circle cx="444.8" cy="97.4" r="2.4"/><circle cx="462.6" cy="104.5" r="2.4"/><circle cx="459.2" cy="110.4" r="2.4"/><circle cx="466.8" cy="110.4" r="2.4"/><circle cx="462.6" cy="116.3" r="2.4"/><circle cx="477.0" cy="116.3" r="2.4"/><circle cx="451.6" cy="123.0" r="2.4"/><circle cx="459.2" cy="123.0" r="2.4"/><circle cx="466.8" cy="123.0" r="2.4"/><circle cx="474.0" cy="123.0" r="2.4"/><circle cx="444.8" cy="110.4" r="2.4"/><circle cx="397.7" cy="130.8" r="2.4"/><circle cx="403.6" cy="129.9" r="2.4"/><circle cx="407.9" cy="124.8" r="2.4"/><circle cx="414.6" cy="135.8" r="2.4"/><circle cx="403.6" cy="142.6" r="3.3"/><circle cx="407.0" cy="149.3" r="3.3"/><circle cx="414.6" cy="149.3" r="2.3"/><circle cx="391.8" cy="149.3" r="3.3"/><circle cx="380.8" cy="165.4" r="2.4"/><circle cx="390.1" cy="167.9" r="3.3"/><circle cx="418.0" cy="129.9" r="2.4"/><circle cx="425.6" cy="129.9" r="2.4"/><circle cx="422.2" cy="136.7" r="2.4"/><circle cx="425.6" cy="142.6" r="2.4"/><circle cx="433.1" cy="129.9" r="2.4"/><circle cx="440.7" cy="129.9" r="2.4"/><circle cx="451.6" cy="124.0" r="2.4"/><circle cx="437.3" cy="135.8" r="2.4"/><circle cx="444.0" cy="135.8" r="2.4"/><circle cx="458.4" cy="135.8" r="2.4"/><circle cx="466.0" cy="135.8" r="2.4"/><circle cx="440.7" cy="142.6" r="2.4"/><circle cx="448.3" cy="142.6" r="2.4"/><circle cx="462.6" cy="142.6" r="2.4"/><circle cx="451.6" cy="149.3" r="2.4"/><circle cx="466.5" cy="149.3" r="2.4"/><circle cx="473.6" cy="149.3" r="2.4"/><circle cx="492.0" cy="142.6" r="2.4"/><circle cx="481.1" cy="149.3" r="2.4"/><circle cx="488.7" cy="149.3" r="2.4"/><circle cx="496.3" cy="149.3" r="2.4"/><circle cx="500.5" cy="168.3" r="2.4"/><circle cx="508.1" cy="168.3" r="2.4"/><circle cx="477.7" cy="129.9" r="2.4"/><circle cx="389.0" cy="168.7" r="4.0"/><circle cx="381.3" cy="167.8" r="4.0"/><circle cx="377.1" cy="173.7" r="4.0"/><circle cx="391.5" cy="173.7" r="4.0"/><circle cx="378.8" cy="181.3" r="4.0"/><circle cx="389.0" cy="181.3" r="4.0"/><circle cx="377.1" cy="188.1" r="4.0"/><circle cx="392.3" cy="188.1" r="4.0"/><circle cx="399.1" cy="187.3" r="4.0"/><circle cx="379.6" cy="194.0" r="4.0"/><circle cx="389.0" cy="194.0" r="4.0"/><circle cx="381.3" cy="198.2" r="4.0"/><circle cx="402.5" cy="182.2" r="4.0"/><circle cx="500.4" cy="168.5" r="2.4"/><circle cx="507.2" cy="168.5" r="2.4"/><circle cx="496.2" cy="174.8" r="2.4"/><circle cx="503.8" cy="174.8" r="2.4"/><circle cx="510.6" cy="174.8" r="2.4"/><circle cx="492.8" cy="181.5" r="2.4"/><circle cx="507.5" cy="181.5" r="2.4"/><circle cx="514.8" cy="181.5" r="2.4"/><circle cx="503.8" cy="188.0" r="2.4"/><circle cx="518.2" cy="188.0" r="2.4"/><circle cx="522.0" cy="193.9" r="3.0"/><circle cx="418.0" cy="245.0" r="4.5"/><circle cx="432.3" cy="244.1" r="4.5"/><circle cx="412.9" cy="252.2" r="4.0"/><circle cx="438.2" cy="250.9" r="4.0"/><circle cx="436.5" cy="256.3" r="3.4"/><circle cx="425.0" cy="241.0" r="3.5"/><circle cx="470.2" cy="219.6" r="3.2"/><circle cx="470.2" cy="233.1" r="3.0"/><circle cx="466.0" cy="239.0" r="3.0"/><circle cx="474.0" cy="252.5" r="3.0"/><circle cx="481.2" cy="252.2" r="3.2"/><circle cx="488.8" cy="252.2" r="3.2"/><circle cx="541.1" cy="226.9" r="2.8"/><circle cx="536.9" cy="233.1" r="2.8"/><circle cx="544.5" cy="233.1" r="2.8"/><circle cx="533.5" cy="239.0" r="2.8"/><circle cx="541.1" cy="239.0" r="2.8"/><circle cx="547.9" cy="239.0" r="2.8"/><circle cx="530.1" cy="245.8" r="2.8"/><circle cx="536.9" cy="245.8" r="2.8"/><circle cx="544.5" cy="245.8" r="2.8"/><circle cx="551.3" cy="245.8" r="2.8"/><circle cx="533.5" cy="252.2" r="2.8"/><circle cx="547.9" cy="252.2" r="2.8"/></g><g fill="#ee1c25" stroke="#222" stroke-width="0.7"><circle cx="410.6" cy="130.1" r="2.3"/><circle cx="444.9" cy="123.5" r="2.3"/><circle cx="440.8" cy="117.3" r="2.0"/><circle cx="418.3" cy="123.3" r="2.0"/><circle cx="441.7" cy="53.0" r="1.8"/><circle cx="447.1" cy="53.0" r="1.8"/><circle cx="444.4" cy="59.0" r="3.3"/><circle cx="421.7" cy="97.4" r="2.6"/><circle cx="414.6" cy="110.7" r="2.6"/><circle cx="422.2" cy="110.7" r="2.2"/><circle cx="429.4" cy="110.7" r="2.2"/><circle cx="404.4" cy="117.5" r="1.6"/><circle cx="414.6" cy="123.1" r="2.2"/><circle cx="422.2" cy="123.1" r="2.2"/><circle cx="429.8" cy="123.1" r="2.2"/><circle cx="448.2" cy="104.5" r="2.6"/><circle cx="455.5" cy="104.5" r="2.6"/><circle cx="470.2" cy="104.5" r="2.3"/><circle cx="451.6" cy="110.4" r="2.3"/><circle cx="474.0" cy="110.7" r="2.3"/><circle cx="455.5" cy="116.8" r="2.3"/><circle cx="470.2" cy="116.8" r="2.3"/><circle cx="480.3" cy="111.3" r="1.5"/><circle cx="483.7" cy="116.8" r="1.5"/><circle cx="400.0" cy="135.8" r="2.8"/><circle cx="407.0" cy="135.8" r="3.0"/><circle cx="411.3" cy="129.9" r="2.5"/><circle cx="413.8" cy="124.0" r="2.2"/><circle cx="422.2" cy="149.3" r="2.5"/><circle cx="385.9" cy="150.7" r="1.6"/><circle cx="382.5" cy="157.0" r="2.0"/><circle cx="385.0" cy="162.5" r="3.6"/><circle cx="448.3" cy="129.9" r="2.3"/><circle cx="455.0" cy="129.9" r="3.3"/><circle cx="462.6" cy="129.9" r="2.3"/><circle cx="451.6" cy="135.8" r="2.3"/><circle cx="429.7" cy="135.8" r="1.8"/><circle cx="433.1" cy="142.6" r="2.3"/><circle cx="429.7" cy="149.3" r="2.5"/><circle cx="459.2" cy="149.3" r="2.5"/><circle cx="466.0" cy="124.0" r="1.8"/><circle cx="485.3" cy="129.9" r="2.5"/><circle cx="481.1" cy="136.2" r="2.5"/><circle cx="488.7" cy="136.2" r="2.5"/><circle cx="477.7" cy="142.6" r="2.5"/><circle cx="502.2" cy="149.3" r="2.0"/><circle cx="503.9" cy="162.0" r="3.0"/><circle cx="384.7" cy="174.9" r="4.6"/><circle cx="373.7" cy="181.3" r="4.2"/><circle cx="396.0" cy="181.3" r="4.2"/><circle cx="384.7" cy="187.3" r="4.2"/><circle cx="370.4" cy="188.1" r="3.8"/><circle cx="363.6" cy="188.1" r="1.8"/><circle cx="499.6" cy="181.5" r="2.5"/><circle cx="496.2" cy="188.0" r="2.8"/><circle cx="489.0" cy="187.6" r="2.8"/><circle cx="422.2" cy="252.2" r="5.2"/><circle cx="430.6" cy="252.2" r="4.6"/><circle cx="417.1" cy="258.3" r="2.0"/><circle cx="434.0" cy="258.3" r="2.0"/><circle cx="441.6" cy="258.0" r="2.0"/><circle cx="451.6" cy="252.2" r="4.8"/><circle cx="470.2" cy="245.8" r="3.7"/><circle cx="477.8" cy="258.3" r="2.0"/><circle cx="484.5" cy="258.3" r="2.0"/><circle cx="525.9" cy="252.2" r="2.8"/><circle cx="541.1" cy="252.2" r="2.5"/><circle cx="555.5" cy="252.2" r="3.5"/><circle cx="559.7" cy="256.8" r="3.5"/><circle cx="536.9" cy="257.6" r="2.5"/><circle cx="529.3" cy="258.0" r="1.8"/><circle cx="485.0" cy="257.9" r="1.8"/></g><g stroke="#555" stroke-width="2.3" stroke-linecap="round" stroke-opacity="0.8"><path d="M443.3,114.8l3,3m0,-3l-3,3"/><path d="M470.4,124.1l3,3m0,-3l-3,3"/><path d="M418.2,143.6l3,3m0,-3l-3,3"/><path d="M432.4,133.5l3,3m0,-3l-3,3"/><path d="M462.8,151.2l3,3m0,-3l-3,3"/><path d="M436.6,171.0l3,3m0,-3l-3,3"/><path d="M442.6,180.7l3,3m0,-3l-3,3"/><path d="M486.3,151.2l3,3m0,-3l-3,3"/><path d="M493.1,162.7l3,3m0,-3l-3,3"/><path d="M503.8,222.1l3,3m0,-3l-3,3"/><path d="M402.1,256.1l3,3m0,-3l-3,3"/><path d="M524.4,256.1l3,3m0,-3l-3,3"/></g><g stroke="#f4f2fa" stroke-width="1.2" stroke-linecap="round"><path d="M443.3,114.8l3,3m0,-3l-3,3"/><path d="M470.4,124.1l3,3m0,-3l-3,3"/><path d="M418.2,143.6l3,3m0,-3l-3,3"/><path d="M432.4,133.5l3,3m0,-3l-3,3"/><path d="M462.8,151.2l3,3m0,-3l-3,3"/><path d="M436.6,171.0l3,3m0,-3l-3,3"/><path d="M442.6,180.7l3,3m0,-3l-3,3"/><path d="M486.3,151.2l3,3m0,-3l-3,3"/><path d="M493.1,162.7l3,3m0,-3l-3,3"/><path d="M503.8,222.1l3,3m0,-3l-3,3"/><path d="M402.1,256.1l3,3m0,-3l-3,3"/><path d="M524.4,256.1l3,3m0,-3l-3,3"/></g>
</g>
<polygon points="322.4,258.5 566.5,258.5 444.1,46.5" fill="none" stroke="#2a2228" stroke-width="1.1"/>
<g stroke="#555" stroke-width="1.5" stroke-linecap="round" stroke-opacity="0.8"><path d="M475.6,100.9l2.2,2.2m0,-2.2l-2.2,2.2"/><path d="M479.1,106.9l2.2,2.2m0,-2.2l-2.2,2.2"/><path d="M482.6,112.9l2.2,2.2m0,-2.2l-2.2,2.2"/><path d="M486.0,118.9l2.2,2.2m0,-2.2l-2.2,2.2"/><path d="M489.5,124.9l2.2,2.2m0,-2.2l-2.2,2.2"/><path d="M493.0,130.9l2.2,2.2m0,-2.2l-2.2,2.2"/><path d="M496.4,136.9l2.2,2.2m0,-2.2l-2.2,2.2"/><path d="M499.9,142.9l2.2,2.2m0,-2.2l-2.2,2.2"/><path d="M503.4,148.9l2.2,2.2m0,-2.2l-2.2,2.2"/><path d="M506.8,154.9l2.2,2.2m0,-2.2l-2.2,2.2"/><path d="M510.3,160.9l2.2,2.2m0,-2.2l-2.2,2.2"/><path d="M513.7,166.9l2.2,2.2m0,-2.2l-2.2,2.2"/><path d="M517.2,172.9l2.2,2.2m0,-2.2l-2.2,2.2"/><path d="M520.7,178.9l2.2,2.2m0,-2.2l-2.2,2.2"/><path d="M524.1,184.9l2.2,2.2m0,-2.2l-2.2,2.2"/><path d="M527.6,190.9l2.2,2.2m0,-2.2l-2.2,2.2"/><path d="M531.1,196.9l2.2,2.2m0,-2.2l-2.2,2.2"/><path d="M534.5,202.9l2.2,2.2m0,-2.2l-2.2,2.2"/><path d="M538.0,208.9l2.2,2.2m0,-2.2l-2.2,2.2"/><path d="M541.5,214.9l2.2,2.2m0,-2.2l-2.2,2.2"/><path d="M544.9,220.9l2.2,2.2m0,-2.2l-2.2,2.2"/><path d="M548.4,226.9l2.2,2.2m0,-2.2l-2.2,2.2"/><path d="M551.9,232.9l2.2,2.2m0,-2.2l-2.2,2.2"/><path d="M555.3,238.9l2.2,2.2m0,-2.2l-2.2,2.2"/><path d="M558.8,244.9l2.2,2.2m0,-2.2l-2.2,2.2"/><path d="M562.2,250.9l2.2,2.2m0,-2.2l-2.2,2.2"/><path d="M356.4,199.4l2.2,2.2m0,-2.2l-2.2,2.2"/></g><g stroke="#fff" stroke-width="0.8" stroke-linecap="round"><path d="M475.6,100.9l2.2,2.2m0,-2.2l-2.2,2.2"/><path d="M479.1,106.9l2.2,2.2m0,-2.2l-2.2,2.2"/><path d="M482.6,112.9l2.2,2.2m0,-2.2l-2.2,2.2"/><path d="M486.0,118.9l2.2,2.2m0,-2.2l-2.2,2.2"/><path d="M489.5,124.9l2.2,2.2m0,-2.2l-2.2,2.2"/><path d="M493.0,130.9l2.2,2.2m0,-2.2l-2.2,2.2"/><path d="M496.4,136.9l2.2,2.2m0,-2.2l-2.2,2.2"/><path d="M499.9,142.9l2.2,2.2m0,-2.2l-2.2,2.2"/><path d="M503.4,148.9l2.2,2.2m0,-2.2l-2.2,2.2"/><path d="M506.8,154.9l2.2,2.2m0,-2.2l-2.2,2.2"/><path d="M510.3,160.9l2.2,2.2m0,-2.2l-2.2,2.2"/><path d="M513.7,166.9l2.2,2.2m0,-2.2l-2.2,2.2"/><path d="M517.2,172.9l2.2,2.2m0,-2.2l-2.2,2.2"/><path d="M520.7,178.9l2.2,2.2m0,-2.2l-2.2,2.2"/><path d="M524.1,184.9l2.2,2.2m0,-2.2l-2.2,2.2"/><path d="M527.6,190.9l2.2,2.2m0,-2.2l-2.2,2.2"/><path d="M531.1,196.9l2.2,2.2m0,-2.2l-2.2,2.2"/><path d="M534.5,202.9l2.2,2.2m0,-2.2l-2.2,2.2"/><path d="M538.0,208.9l2.2,2.2m0,-2.2l-2.2,2.2"/><path d="M541.5,214.9l2.2,2.2m0,-2.2l-2.2,2.2"/><path d="M544.9,220.9l2.2,2.2m0,-2.2l-2.2,2.2"/><path d="M548.4,226.9l2.2,2.2m0,-2.2l-2.2,2.2"/><path d="M551.9,232.9l2.2,2.2m0,-2.2l-2.2,2.2"/><path d="M555.3,238.9l2.2,2.2m0,-2.2l-2.2,2.2"/><path d="M558.8,244.9l2.2,2.2m0,-2.2l-2.2,2.2"/><path d="M562.2,250.9l2.2,2.2m0,-2.2l-2.2,2.2"/><path d="M356.4,199.4l2.2,2.2m0,-2.2l-2.2,2.2"/></g><g fill="#ee1c25" stroke="#222" stroke-width="0.5"><circle cx="477.3" cy="104.0" r="1.6"/><circle cx="484.8" cy="117.0" r="1.6"/><circle cx="520.0" cy="178.0" r="1.6"/></g><text x="313.5" y="260" text-anchor="end" class="b">0</text><text x="342.8" y="217.7" text-anchor="end" class="b2">0.2</text><text x="367.2" y="175.3" text-anchor="end" class="b2">0.4</text><text x="391.5" y="132.9" text-anchor="end" class="b2">0.6</text><text x="415.9" y="90.5" text-anchor="end" class="b2">0.8</text><text x="434.5" y="46.5" text-anchor="end" class="b">1</text><text x="446.3" y="45.3" class="b">0</text><text x="470.5" y="89.1" class="b2">0.2</text><text x="495.0" y="131.5" class="b2">0.4</text><text x="519.4" y="173.9" class="b2">0.6</text><text x="543.9" y="216.3" class="b2">0.8</text><text x="569.5" y="257.7" class="b">1</text><text x="324" y="269" text-anchor="middle" class="b">1</text><text x="376.2" y="269.8" text-anchor="middle" class="b2">0.8</text><text x="425.0" y="269.8" text-anchor="middle" class="b2">0.6</text><text x="473.9" y="269.8" text-anchor="middle" class="b2">0.4</text><text x="522.7" y="269.8" text-anchor="middle" class="b2">0.2</text><text x="569.5" y="269" text-anchor="middle" class="b">0</text><text x="433" y="282.2" class="t" style="font-size:12px">% Ca</text><text transform="translate(363.2,150.6) rotate(-52)" text-anchor="middle" class="t" style="font-size:12.5px">% Al</text><text transform="translate(525.6,148) rotate(61)" text-anchor="middle" class="t" style="font-size:12.5px">% Cu</text>
</svg></body></html>
